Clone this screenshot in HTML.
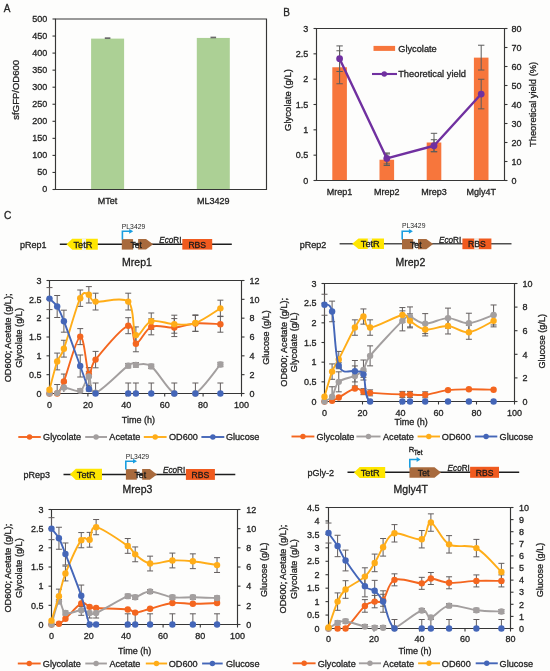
<!DOCTYPE html><html><head><meta charset="utf-8"><style>html,body{margin:0;padding:0;background:#fdfdfc;width:550px;height:671px;overflow:hidden}svg{display:block;filter:blur(0.35px)}text{font-family:"Liberation Sans",sans-serif;stroke:#222;stroke-width:0.3px}</style></head><body>
<svg width="550" height="671" viewBox="0 0 550 671">
<rect x="0" y="0" width="550" height="671" fill="#fdfdfc" />
<text x="3.8" y="11.8" font-size="10" text-anchor="start" fill="#262626" >A</text>
<rect x="91.1" y="38.61" width="33" height="150.89" fill="#acd095" />
<rect x="104.8" y="37.31" width="5.6" height="1.7" fill="#6a6a6a" />
<text x="107.6" y="203.8" font-size="9" text-anchor="middle" fill="#262626" >MTet</text>
<rect x="196.8" y="37.93" width="33" height="151.57" fill="#acd095" />
<rect x="210.5" y="36.63" width="5.6" height="1.7" fill="#6a6a6a" />
<text x="213.3" y="203.8" font-size="9" text-anchor="middle" fill="#262626" >ML3429</text>
<path d="M55.5,19 H266.5 V189.5 H55.5 Z" fill="none" stroke="#363636" stroke-width="1.15"/>
<line x1="52.5" y1="189.5" x2="55.5" y2="189.5" stroke="#363636" stroke-width="1.1" />
<text x="47.2" y="192.3" font-size="9" text-anchor="end" fill="#262626" >0</text>
<line x1="52.5" y1="172.45" x2="55.5" y2="172.45" stroke="#363636" stroke-width="1.1" />
<text x="47.2" y="175.25" font-size="9" text-anchor="end" fill="#262626" >50</text>
<line x1="52.5" y1="155.4" x2="55.5" y2="155.4" stroke="#363636" stroke-width="1.1" />
<text x="47.2" y="158.2" font-size="9" text-anchor="end" fill="#262626" >100</text>
<line x1="52.5" y1="138.35" x2="55.5" y2="138.35" stroke="#363636" stroke-width="1.1" />
<text x="47.2" y="141.15" font-size="9" text-anchor="end" fill="#262626" >150</text>
<line x1="52.5" y1="121.3" x2="55.5" y2="121.3" stroke="#363636" stroke-width="1.1" />
<text x="47.2" y="124.1" font-size="9" text-anchor="end" fill="#262626" >200</text>
<line x1="52.5" y1="104.25" x2="55.5" y2="104.25" stroke="#363636" stroke-width="1.1" />
<text x="47.2" y="107.05" font-size="9" text-anchor="end" fill="#262626" >250</text>
<line x1="52.5" y1="87.2" x2="55.5" y2="87.2" stroke="#363636" stroke-width="1.1" />
<text x="47.2" y="90" font-size="9" text-anchor="end" fill="#262626" >300</text>
<line x1="52.5" y1="70.15" x2="55.5" y2="70.15" stroke="#363636" stroke-width="1.1" />
<text x="47.2" y="72.95" font-size="9" text-anchor="end" fill="#262626" >350</text>
<line x1="52.5" y1="53.1" x2="55.5" y2="53.1" stroke="#363636" stroke-width="1.1" />
<text x="47.2" y="55.9" font-size="9" text-anchor="end" fill="#262626" >400</text>
<line x1="52.5" y1="36.05" x2="55.5" y2="36.05" stroke="#363636" stroke-width="1.1" />
<text x="47.2" y="38.85" font-size="9" text-anchor="end" fill="#262626" >450</text>
<line x1="52.5" y1="19" x2="55.5" y2="19" stroke="#363636" stroke-width="1.1" />
<text x="47.2" y="21.8" font-size="9" text-anchor="end" fill="#262626" >500</text>
<text x="0" y="0" font-size="9.5" text-anchor="middle" fill="#262626" transform="translate(15.3 89.8) rotate(-90)" dy="3.32">sfGFP/OD600</text>
<text x="283.3" y="16" font-size="10" text-anchor="start" fill="#262626" >B</text>
<rect x="332.3" y="67.26" width="14.6" height="113.24" fill="#f7763c" />
<text x="339.6" y="194.6" font-size="9" text-anchor="middle" fill="#262626" >Mrep1</text>
<rect x="379.5" y="159.73" width="14.6" height="20.77" fill="#f7763c" />
<text x="386.8" y="194.6" font-size="9" text-anchor="middle" fill="#262626" >Mrep2</text>
<rect x="426.7" y="142.5" width="14.6" height="38" fill="#f7763c" />
<text x="434" y="194.6" font-size="9" text-anchor="middle" fill="#262626" >Mrep3</text>
<rect x="473.9" y="57.63" width="14.6" height="122.87" fill="#f7763c" />
<text x="481.2" y="194.6" font-size="9" text-anchor="middle" fill="#262626" >Mgly4T</text>
<line x1="339.6" y1="50.76" x2="339.6" y2="83.76" stroke="#5c5c5c" stroke-width="1" />
<line x1="336.4" y1="50.76" x2="342.8" y2="50.76" stroke="#5c5c5c" stroke-width="1" />
<line x1="336.4" y1="83.76" x2="342.8" y2="83.76" stroke="#5c5c5c" stroke-width="1" />
<line x1="386.8" y1="153.93" x2="386.8" y2="165.53" stroke="#5c5c5c" stroke-width="1" />
<line x1="383.6" y1="153.93" x2="390" y2="153.93" stroke="#5c5c5c" stroke-width="1" />
<line x1="383.6" y1="165.53" x2="390" y2="165.53" stroke="#5c5c5c" stroke-width="1" />
<line x1="434" y1="133.3" x2="434" y2="151.7" stroke="#5c5c5c" stroke-width="1" />
<line x1="430.8" y1="133.3" x2="437.2" y2="133.3" stroke="#5c5c5c" stroke-width="1" />
<line x1="430.8" y1="151.7" x2="437.2" y2="151.7" stroke="#5c5c5c" stroke-width="1" />
<line x1="481.2" y1="45.23" x2="481.2" y2="70.03" stroke="#5c5c5c" stroke-width="1" />
<line x1="478" y1="45.23" x2="484.4" y2="45.23" stroke="#5c5c5c" stroke-width="1" />
<line x1="478" y1="70.03" x2="484.4" y2="70.03" stroke="#5c5c5c" stroke-width="1" />
<line x1="339.6" y1="45.91" x2="339.6" y2="71.51" stroke="#5c5c5c" stroke-width="1" />
<line x1="336.4" y1="45.91" x2="342.8" y2="45.91" stroke="#5c5c5c" stroke-width="1" />
<line x1="336.4" y1="71.51" x2="342.8" y2="71.51" stroke="#5c5c5c" stroke-width="1" />
<line x1="386.8" y1="152.96" x2="386.8" y2="163.96" stroke="#5c5c5c" stroke-width="1" />
<line x1="383.6" y1="152.96" x2="390" y2="152.96" stroke="#5c5c5c" stroke-width="1" />
<line x1="383.6" y1="163.96" x2="390" y2="163.96" stroke="#5c5c5c" stroke-width="1" />
<line x1="434" y1="139.73" x2="434" y2="151.73" stroke="#5c5c5c" stroke-width="1" />
<line x1="430.8" y1="139.73" x2="437.2" y2="139.73" stroke="#5c5c5c" stroke-width="1" />
<line x1="430.8" y1="151.73" x2="437.2" y2="151.73" stroke="#5c5c5c" stroke-width="1" />
<line x1="481.2" y1="79.25" x2="481.2" y2="108.85" stroke="#5c5c5c" stroke-width="1" />
<line x1="478" y1="79.25" x2="484.4" y2="79.25" stroke="#5c5c5c" stroke-width="1" />
<line x1="478" y1="108.85" x2="484.4" y2="108.85" stroke="#5c5c5c" stroke-width="1" />
<polyline points="339.6,58.71 386.8,158.46 434,145.73 481.2,94.05" fill="none" stroke="#7030a0" stroke-width="2.4" stroke-linejoin="round"/>
<circle cx="339.6" cy="58.71" r="3.4" fill="#7030a0" />
<circle cx="386.8" cy="158.46" r="3.4" fill="#7030a0" />
<circle cx="434" cy="145.73" r="3.4" fill="#7030a0" />
<circle cx="481.2" cy="94.05" r="3.4" fill="#7030a0" />
<path d="M316.5,28.5 H504.5 V180.5 H316.5 Z" fill="none" stroke="#363636" stroke-width="1.15"/>
<line x1="313.5" y1="180.5" x2="316.5" y2="180.5" stroke="#363636" stroke-width="1.1" />
<text x="308.3" y="183.7" font-size="9" text-anchor="end" fill="#262626" >0</text>
<line x1="313.5" y1="155.17" x2="316.5" y2="155.17" stroke="#363636" stroke-width="1.1" />
<text x="308.3" y="158.37" font-size="9" text-anchor="end" fill="#262626" >0.5</text>
<line x1="313.5" y1="129.83" x2="316.5" y2="129.83" stroke="#363636" stroke-width="1.1" />
<text x="308.3" y="133.03" font-size="9" text-anchor="end" fill="#262626" >1</text>
<line x1="313.5" y1="104.5" x2="316.5" y2="104.5" stroke="#363636" stroke-width="1.1" />
<text x="308.3" y="107.7" font-size="9" text-anchor="end" fill="#262626" >1.5</text>
<line x1="313.5" y1="79.17" x2="316.5" y2="79.17" stroke="#363636" stroke-width="1.1" />
<text x="308.3" y="82.37" font-size="9" text-anchor="end" fill="#262626" >2</text>
<line x1="313.5" y1="53.83" x2="316.5" y2="53.83" stroke="#363636" stroke-width="1.1" />
<text x="308.3" y="57.03" font-size="9" text-anchor="end" fill="#262626" >2.5</text>
<line x1="313.5" y1="28.5" x2="316.5" y2="28.5" stroke="#363636" stroke-width="1.1" />
<text x="308.3" y="31.7" font-size="9" text-anchor="end" fill="#262626" >3</text>
<line x1="504.5" y1="180.5" x2="507.5" y2="180.5" stroke="#363636" stroke-width="1.1" />
<text x="511.4" y="183.7" font-size="9" text-anchor="start" fill="#262626" >0</text>
<line x1="504.5" y1="161.5" x2="507.5" y2="161.5" stroke="#363636" stroke-width="1.1" />
<text x="511.4" y="164.7" font-size="9" text-anchor="start" fill="#262626" >10</text>
<line x1="504.5" y1="142.5" x2="507.5" y2="142.5" stroke="#363636" stroke-width="1.1" />
<text x="511.4" y="145.7" font-size="9" text-anchor="start" fill="#262626" >20</text>
<line x1="504.5" y1="123.5" x2="507.5" y2="123.5" stroke="#363636" stroke-width="1.1" />
<text x="511.4" y="126.7" font-size="9" text-anchor="start" fill="#262626" >30</text>
<line x1="504.5" y1="104.5" x2="507.5" y2="104.5" stroke="#363636" stroke-width="1.1" />
<text x="511.4" y="107.7" font-size="9" text-anchor="start" fill="#262626" >40</text>
<line x1="504.5" y1="85.5" x2="507.5" y2="85.5" stroke="#363636" stroke-width="1.1" />
<text x="511.4" y="88.7" font-size="9" text-anchor="start" fill="#262626" >50</text>
<line x1="504.5" y1="66.5" x2="507.5" y2="66.5" stroke="#363636" stroke-width="1.1" />
<text x="511.4" y="69.7" font-size="9" text-anchor="start" fill="#262626" >60</text>
<line x1="504.5" y1="47.5" x2="507.5" y2="47.5" stroke="#363636" stroke-width="1.1" />
<text x="511.4" y="50.7" font-size="9" text-anchor="start" fill="#262626" >70</text>
<line x1="504.5" y1="28.5" x2="507.5" y2="28.5" stroke="#363636" stroke-width="1.1" />
<text x="511.4" y="31.7" font-size="9" text-anchor="start" fill="#262626" >80</text>
<text x="0" y="0" font-size="9.5" text-anchor="middle" fill="#262626" transform="translate(287.4 100) rotate(-90)" dy="3.32">Glycolate (g/L)</text>
<text x="0" y="0" font-size="9.35" text-anchor="middle" fill="#262626" transform="translate(533 104.4) rotate(-90)" dy="3.27">Theoretical yield (%)</text>
<rect x="373.5" y="45.9" width="21.6" height="5" fill="#f7763c" />
<text x="398.2" y="51.6" font-size="9.25" text-anchor="start" fill="#262626" >Glycolate</text>
<line x1="372" y1="74" x2="397" y2="74" stroke="#7030a0" stroke-width="2.1" />
<circle cx="384.3" cy="74" r="2.7" fill="#7030a0" />
<text x="398.2" y="77.2" font-size="9.3" text-anchor="start" fill="#262626" >Theoretical yield</text>
<text x="4" y="218.6" font-size="10.2" text-anchor="start" fill="#262626" >C</text>
<text x="19.9" y="248" font-size="9" text-anchor="start" fill="#262626" >pRep1</text>
<line x1="59.8" y1="244.2" x2="231.8" y2="244.2" stroke="#1e1e1e" stroke-width="1.5" />
<polygon points="66.5,244.25 72.2,238.8 97.8,238.8 97.8,249.7 72.2,249.7" fill="#ffe600"/>
<rect x="82" y="238.3" width="4" height="11.9" fill="#f3f3ea" />
<text x="82.9" y="247.6" font-size="9.2" text-anchor="middle" fill="#141414" >TetR</text>
<rect x="121.8" y="239.1" width="11.3" height="10.5" fill="#a86a3d" />
<polygon points="138.1,239.1 146,239.1 153.1,244.35 146,249.6 138.1,249.6" fill="#a86a3d"/>
<text x="136.2" y="248" font-size="8.6" text-anchor="middle" fill="#141414" >Tet</text>
<path d="M122.4,239.6 V231.3 H130.2" fill="none" stroke="#1a9ee0" stroke-width="1.6"/>
<polygon points="129.2,228.9 133.2,231.3 129.2,233.7" fill="#1a9ee0"/>
<text x="121.8" y="228.9" font-size="6.8" text-anchor="start" fill="#262626" style="stroke:none">PL3429</text>
<text x="159.2" y="243" font-size="8.2" fill="#222"><tspan font-style="italic">Eco</tspan>RI</text>
<rect x="182.3" y="239" width="29.9" height="10.6" fill="#f05a1e" />
<text x="197.25" y="247.5" font-size="8.6" text-anchor="middle" fill="#141414" >RBS</text>
<text x="122.1" y="265.5" font-size="10.5" text-anchor="start" fill="#1a1a1a" >Mrep1</text>
<text x="299.8" y="247.6" font-size="9" text-anchor="start" fill="#262626" >pRep2</text>
<line x1="339.6" y1="243.8" x2="511.5" y2="243.8" stroke="#505050" stroke-width="1.5" />
<polygon points="352.2,243.65 358.5,238.4 384,238.4 384,248.9 358.5,248.9" fill="#ffe600"/>
<rect x="367.8" y="237.9" width="4.1" height="11.5" fill="#f3f3ea" />
<text x="370.3" y="247.2" font-size="9.2" text-anchor="middle" fill="#141414" >TetR</text>
<rect x="402" y="239" width="11.2" height="10.2" fill="#a86a3d" />
<polygon points="418,239 426.3,239 433.1,244.1 426.3,249.2 418,249.2" fill="#a86a3d"/>
<text x="415.8" y="247.6" font-size="8.6" text-anchor="middle" fill="#141414" >Tet</text>
<path d="M402.2,239.5 V231.3 H409.9" fill="none" stroke="#1a9ee0" stroke-width="1.6"/>
<polygon points="408.9,228.9 412.9,231.3 408.9,233.7" fill="#1a9ee0"/>
<text x="402" y="228.4" font-size="6.8" text-anchor="start" fill="#262626" style="stroke:none">PL3429</text>
<text x="439" y="242.6" font-size="8.2" fill="#222"><tspan font-style="italic">Eco</tspan>RI</text>
<rect x="462.4" y="238.5" width="29" height="10.7" fill="#f05a1e" />
<rect x="474.2" y="238" width="4.6" height="11.7" fill="#f1ece6" />
<text x="476.9" y="247.1" font-size="8.6" text-anchor="middle" fill="#141414" >RBS</text>
<text x="395.5" y="265.5" font-size="10.5" text-anchor="start" fill="#1a1a1a" >Mrep2</text>
<text x="23.5" y="478.2" font-size="9" text-anchor="start" fill="#262626" >pRep3</text>
<line x1="63.5" y1="474.4" x2="235.3" y2="474.4" stroke="#1e1e1e" stroke-width="1.5" />
<polygon points="70,474.35 75.8,468.8 102,468.8 102,479.9 75.8,479.9" fill="#ffe600"/>
<text x="86.3" y="477.8" font-size="9.2" text-anchor="middle" fill="#141414" >TetR</text>
<rect x="125.9" y="469.1" width="10.9" height="10.6" fill="#a86a3d" />
<polygon points="142.1,469.1 149.9,469.1 157,474.4 149.9,479.7 142.1,479.7" fill="#a86a3d"/>
<text x="140.3" y="478.2" font-size="8.6" text-anchor="middle" fill="#141414" >Tet</text>
<path d="M125.8,469.6 V461.2 H134" fill="none" stroke="#1a9ee0" stroke-width="1.6"/>
<polygon points="133,458.8 137,461.2 133,463.6" fill="#1a9ee0"/>
<text x="125.7" y="458.9" font-size="6.8" text-anchor="start" fill="#262626" style="stroke:none">PL3429</text>
<text x="163" y="473" font-size="8.2" fill="#222"><tspan font-style="italic">Eco</tspan>RI</text>
<rect x="185.9" y="469" width="29" height="10.9" fill="#f05a1e" />
<text x="200.4" y="477.7" font-size="8.6" text-anchor="middle" fill="#141414" >RBS</text>
<text x="122.6" y="493" font-size="10.5" text-anchor="start" fill="#1a1a1a" >Mrep3</text>
<text x="307.6" y="476" font-size="9" text-anchor="start" fill="#262626" >pGly-2</text>
<line x1="347.5" y1="472.2" x2="519.2" y2="472.2" stroke="#1e1e1e" stroke-width="1.5" />
<polygon points="354,472.5 359.7,467.1 385.2,467.1 385.2,477.9 359.7,477.9" fill="#ffe600"/>
<text x="370.2" y="475.6" font-size="9.2" text-anchor="middle" fill="#141414" >TetR</text>
<polygon points="409.5,467.2 434.5,467.2 440.9,472.45 434.5,477.7 409.5,477.7" fill="#a86a3d"/>
<text x="423.6" y="476" font-size="8.6" text-anchor="middle" fill="#141414" >Tet</text>
<path d="M409.8,467.7 V459.5 H417.6" fill="none" stroke="#1a9ee0" stroke-width="1.6"/>
<polygon points="416.6,457.1 420.6,459.5 416.6,461.9" fill="#1a9ee0"/>
<text x="408.7" y="452.1" font-size="7.6" fill="#222">R<tspan font-size="6.6" dy="2.8" dx="-0.4">Tet</tspan></text>
<text x="447.6" y="471.4" font-size="8.2" fill="#222"><tspan font-style="italic">Eco</tspan>RI</text>
<rect x="470.1" y="466.8" width="28.9" height="11" fill="#f05a1e" />
<text x="484.55" y="475.5" font-size="8.6" text-anchor="middle" fill="#141414" >RBS</text>
<text x="393.6" y="492.6" font-size="10.5" text-anchor="start" fill="#1a1a1a" >Mgly4T</text>
<path d="M49.5,280.5 H241.5 V393.5 H49.5 Z" fill="none" stroke="#363636" stroke-width="1.15"/>
<line x1="46.5" y1="393.5" x2="49.5" y2="393.5" stroke="#363636" stroke-width="1.1" />
<text x="41.6" y="396.7" font-size="9" text-anchor="end" fill="#262626" >0</text>
<line x1="46.5" y1="374.67" x2="49.5" y2="374.67" stroke="#363636" stroke-width="1.1" />
<text x="41.6" y="377.87" font-size="9" text-anchor="end" fill="#262626" >0.5</text>
<line x1="46.5" y1="355.83" x2="49.5" y2="355.83" stroke="#363636" stroke-width="1.1" />
<text x="41.6" y="359.03" font-size="9" text-anchor="end" fill="#262626" >1</text>
<line x1="46.5" y1="337" x2="49.5" y2="337" stroke="#363636" stroke-width="1.1" />
<text x="41.6" y="340.2" font-size="9" text-anchor="end" fill="#262626" >1.5</text>
<line x1="46.5" y1="318.17" x2="49.5" y2="318.17" stroke="#363636" stroke-width="1.1" />
<text x="41.6" y="321.37" font-size="9" text-anchor="end" fill="#262626" >2</text>
<line x1="46.5" y1="299.33" x2="49.5" y2="299.33" stroke="#363636" stroke-width="1.1" />
<text x="41.6" y="302.53" font-size="9" text-anchor="end" fill="#262626" >2.5</text>
<line x1="46.5" y1="280.5" x2="49.5" y2="280.5" stroke="#363636" stroke-width="1.1" />
<text x="41.6" y="283.7" font-size="9" text-anchor="end" fill="#262626" >3</text>
<line x1="241.5" y1="393.5" x2="244.5" y2="393.5" stroke="#363636" stroke-width="1.1" />
<text x="249.4" y="396.7" font-size="9" text-anchor="start" fill="#262626" >0</text>
<line x1="241.5" y1="374.67" x2="244.5" y2="374.67" stroke="#363636" stroke-width="1.1" />
<text x="249.4" y="377.87" font-size="9" text-anchor="start" fill="#262626" >2</text>
<line x1="241.5" y1="355.83" x2="244.5" y2="355.83" stroke="#363636" stroke-width="1.1" />
<text x="249.4" y="359.03" font-size="9" text-anchor="start" fill="#262626" >4</text>
<line x1="241.5" y1="337" x2="244.5" y2="337" stroke="#363636" stroke-width="1.1" />
<text x="249.4" y="340.2" font-size="9" text-anchor="start" fill="#262626" >6</text>
<line x1="241.5" y1="318.17" x2="244.5" y2="318.17" stroke="#363636" stroke-width="1.1" />
<text x="249.4" y="321.37" font-size="9" text-anchor="start" fill="#262626" >8</text>
<line x1="241.5" y1="299.33" x2="244.5" y2="299.33" stroke="#363636" stroke-width="1.1" />
<text x="249.4" y="302.53" font-size="9" text-anchor="start" fill="#262626" >10</text>
<line x1="241.5" y1="280.5" x2="244.5" y2="280.5" stroke="#363636" stroke-width="1.1" />
<text x="249.4" y="283.7" font-size="9" text-anchor="start" fill="#262626" >12</text>
<line x1="49.5" y1="393.5" x2="49.5" y2="396.5" stroke="#363636" stroke-width="1.1" />
<text x="49.5" y="407.8" font-size="9" text-anchor="middle" fill="#262626" >0</text>
<line x1="87.9" y1="393.5" x2="87.9" y2="396.5" stroke="#363636" stroke-width="1.1" />
<text x="87.9" y="407.8" font-size="9" text-anchor="middle" fill="#262626" >20</text>
<line x1="126.3" y1="393.5" x2="126.3" y2="396.5" stroke="#363636" stroke-width="1.1" />
<text x="126.3" y="407.8" font-size="9" text-anchor="middle" fill="#262626" >40</text>
<line x1="164.7" y1="393.5" x2="164.7" y2="396.5" stroke="#363636" stroke-width="1.1" />
<text x="164.7" y="407.8" font-size="9" text-anchor="middle" fill="#262626" >60</text>
<line x1="203.1" y1="393.5" x2="203.1" y2="396.5" stroke="#363636" stroke-width="1.1" />
<text x="203.1" y="407.8" font-size="9" text-anchor="middle" fill="#262626" >80</text>
<line x1="241.5" y1="393.5" x2="241.5" y2="396.5" stroke="#363636" stroke-width="1.1" />
<text x="241.5" y="407.8" font-size="9" text-anchor="middle" fill="#262626" >100</text>
<text x="138.4" y="422.7" font-size="9" text-anchor="middle" fill="#262626" >Time (h)</text>
<text x="0" y="0" font-size="9.2" text-anchor="middle" fill="#262626" transform="translate(7.8 337.9) rotate(-90)" dy="3.22">OD600; Acetate (g/L);</text>
<text x="0" y="0" font-size="9.2" text-anchor="middle" fill="#262626" transform="translate(18.5 337.9) rotate(-90)" dy="3.22">Glycolate (g/L)</text>
<text x="0" y="0" font-size="9.1" text-anchor="middle" fill="#262626" transform="translate(265.8 337.5) rotate(-90)" dy="3.18">Glucose (g/L)</text>
<clipPath id="c1"><rect x="45.5" y="278.5" width="200" height="113.5"/></clipPath>
<g clip-path="url(#c1)">
<line x1="63.9" y1="374.05" x2="63.9" y2="388.85" stroke="#625d5d" stroke-width="1" />
<line x1="60.9" y1="374.05" x2="66.9" y2="374.05" stroke="#625d5d" stroke-width="1" />
<line x1="60.9" y1="388.85" x2="66.9" y2="388.85" stroke="#625d5d" stroke-width="1" />
<line x1="80.22" y1="328.62" x2="80.22" y2="344.62" stroke="#625d5d" stroke-width="1" />
<line x1="77.22" y1="328.62" x2="83.22" y2="328.62" stroke="#625d5d" stroke-width="1" />
<line x1="77.22" y1="344.62" x2="83.22" y2="344.62" stroke="#625d5d" stroke-width="1" />
<line x1="88.86" y1="371.29" x2="88.86" y2="377.29" stroke="#625d5d" stroke-width="1" />
<line x1="85.86" y1="371.29" x2="91.86" y2="371.29" stroke="#625d5d" stroke-width="1" />
<line x1="85.86" y1="377.29" x2="91.86" y2="377.29" stroke="#625d5d" stroke-width="1" />
<line x1="95.58" y1="351.4" x2="95.58" y2="367.8" stroke="#625d5d" stroke-width="1" />
<line x1="92.58" y1="351.4" x2="98.58" y2="351.4" stroke="#625d5d" stroke-width="1" />
<line x1="92.58" y1="367.8" x2="98.58" y2="367.8" stroke="#625d5d" stroke-width="1" />
<line x1="128.22" y1="317.7" x2="128.22" y2="333.7" stroke="#625d5d" stroke-width="1" />
<line x1="125.22" y1="317.7" x2="131.22" y2="317.7" stroke="#625d5d" stroke-width="1" />
<line x1="125.22" y1="333.7" x2="131.22" y2="333.7" stroke="#625d5d" stroke-width="1" />
<line x1="135.9" y1="335.78" x2="135.9" y2="351.78" stroke="#625d5d" stroke-width="1" />
<line x1="132.9" y1="335.78" x2="138.9" y2="335.78" stroke="#625d5d" stroke-width="1" />
<line x1="132.9" y1="351.78" x2="138.9" y2="351.78" stroke="#625d5d" stroke-width="1" />
<line x1="151.26" y1="318.83" x2="151.26" y2="334.83" stroke="#625d5d" stroke-width="1" />
<line x1="148.26" y1="318.83" x2="154.26" y2="318.83" stroke="#625d5d" stroke-width="1" />
<line x1="148.26" y1="334.83" x2="154.26" y2="334.83" stroke="#625d5d" stroke-width="1" />
<line x1="174.3" y1="318.58" x2="174.3" y2="336.58" stroke="#625d5d" stroke-width="1" />
<line x1="171.3" y1="318.58" x2="177.3" y2="318.58" stroke="#625d5d" stroke-width="1" />
<line x1="171.3" y1="336.58" x2="177.3" y2="336.58" stroke="#625d5d" stroke-width="1" />
<line x1="195.42" y1="315.44" x2="195.42" y2="331.44" stroke="#625d5d" stroke-width="1" />
<line x1="192.42" y1="315.44" x2="198.42" y2="315.44" stroke="#625d5d" stroke-width="1" />
<line x1="192.42" y1="331.44" x2="198.42" y2="331.44" stroke="#625d5d" stroke-width="1" />
<line x1="220.38" y1="316.19" x2="220.38" y2="332.19" stroke="#625d5d" stroke-width="1" />
<line x1="217.38" y1="316.19" x2="223.38" y2="316.19" stroke="#625d5d" stroke-width="1" />
<line x1="217.38" y1="332.19" x2="223.38" y2="332.19" stroke="#625d5d" stroke-width="1" />
<line x1="57.18" y1="384.52" x2="57.18" y2="401.72" stroke="#625d5d" stroke-width="1" />
<line x1="54.18" y1="384.52" x2="60.18" y2="384.52" stroke="#625d5d" stroke-width="1" />
<line x1="54.18" y1="401.72" x2="60.18" y2="401.72" stroke="#625d5d" stroke-width="1" />
<line x1="63.9" y1="382.47" x2="63.9" y2="392.47" stroke="#625d5d" stroke-width="1" />
<line x1="60.9" y1="382.47" x2="66.9" y2="382.47" stroke="#625d5d" stroke-width="1" />
<line x1="60.9" y1="392.47" x2="66.9" y2="392.47" stroke="#625d5d" stroke-width="1" />
<line x1="80.22" y1="388.86" x2="80.22" y2="392.86" stroke="#625d5d" stroke-width="1" />
<line x1="77.22" y1="388.86" x2="83.22" y2="388.86" stroke="#625d5d" stroke-width="1" />
<line x1="77.22" y1="392.86" x2="83.22" y2="392.86" stroke="#625d5d" stroke-width="1" />
<line x1="88.86" y1="367.55" x2="88.86" y2="385.55" stroke="#625d5d" stroke-width="1" />
<line x1="85.86" y1="367.55" x2="91.86" y2="367.55" stroke="#625d5d" stroke-width="1" />
<line x1="85.86" y1="385.55" x2="91.86" y2="385.55" stroke="#625d5d" stroke-width="1" />
<line x1="95.58" y1="390.75" x2="95.58" y2="394.75" stroke="#625d5d" stroke-width="1" />
<line x1="92.58" y1="390.75" x2="98.58" y2="390.75" stroke="#625d5d" stroke-width="1" />
<line x1="92.58" y1="394.75" x2="98.58" y2="394.75" stroke="#625d5d" stroke-width="1" />
<line x1="128.22" y1="363.43" x2="128.22" y2="367.83" stroke="#625d5d" stroke-width="1" />
<line x1="125.22" y1="363.43" x2="131.22" y2="363.43" stroke="#625d5d" stroke-width="1" />
<line x1="125.22" y1="367.83" x2="131.22" y2="367.83" stroke="#625d5d" stroke-width="1" />
<line x1="135.9" y1="362.67" x2="135.9" y2="367.07" stroke="#625d5d" stroke-width="1" />
<line x1="132.9" y1="362.67" x2="138.9" y2="362.67" stroke="#625d5d" stroke-width="1" />
<line x1="132.9" y1="367.07" x2="138.9" y2="367.07" stroke="#625d5d" stroke-width="1" />
<line x1="151.26" y1="364.18" x2="151.26" y2="368.58" stroke="#625d5d" stroke-width="1" />
<line x1="148.26" y1="364.18" x2="154.26" y2="364.18" stroke="#625d5d" stroke-width="1" />
<line x1="148.26" y1="368.58" x2="154.26" y2="368.58" stroke="#625d5d" stroke-width="1" />
<line x1="220.38" y1="362.3" x2="220.38" y2="366.7" stroke="#625d5d" stroke-width="1" />
<line x1="217.38" y1="362.3" x2="223.38" y2="362.3" stroke="#625d5d" stroke-width="1" />
<line x1="217.38" y1="366.7" x2="223.38" y2="366.7" stroke="#625d5d" stroke-width="1" />
<line x1="57.18" y1="353.08" x2="57.18" y2="369.88" stroke="#625d5d" stroke-width="1" />
<line x1="54.18" y1="353.08" x2="60.18" y2="353.08" stroke="#625d5d" stroke-width="1" />
<line x1="54.18" y1="369.88" x2="60.18" y2="369.88" stroke="#625d5d" stroke-width="1" />
<line x1="63.9" y1="340.28" x2="63.9" y2="357.08" stroke="#625d5d" stroke-width="1" />
<line x1="60.9" y1="340.28" x2="66.9" y2="340.28" stroke="#625d5d" stroke-width="1" />
<line x1="60.9" y1="357.08" x2="66.9" y2="357.08" stroke="#625d5d" stroke-width="1" />
<line x1="80.22" y1="290" x2="80.22" y2="306.4" stroke="#625d5d" stroke-width="1" />
<line x1="77.22" y1="290" x2="83.22" y2="290" stroke="#625d5d" stroke-width="1" />
<line x1="77.22" y1="306.4" x2="83.22" y2="306.4" stroke="#625d5d" stroke-width="1" />
<line x1="88.86" y1="286.61" x2="88.86" y2="303.01" stroke="#625d5d" stroke-width="1" />
<line x1="85.86" y1="286.61" x2="91.86" y2="286.61" stroke="#625d5d" stroke-width="1" />
<line x1="85.86" y1="303.01" x2="91.86" y2="303.01" stroke="#625d5d" stroke-width="1" />
<line x1="95.58" y1="293.19" x2="95.58" y2="309.99" stroke="#625d5d" stroke-width="1" />
<line x1="92.58" y1="293.19" x2="98.58" y2="293.19" stroke="#625d5d" stroke-width="1" />
<line x1="92.58" y1="309.99" x2="98.58" y2="309.99" stroke="#625d5d" stroke-width="1" />
<line x1="128.22" y1="293.19" x2="128.22" y2="309.99" stroke="#625d5d" stroke-width="1" />
<line x1="125.22" y1="293.19" x2="131.22" y2="293.19" stroke="#625d5d" stroke-width="1" />
<line x1="125.22" y1="309.99" x2="131.22" y2="309.99" stroke="#625d5d" stroke-width="1" />
<line x1="135.9" y1="326.92" x2="135.9" y2="343.32" stroke="#625d5d" stroke-width="1" />
<line x1="132.9" y1="326.92" x2="138.9" y2="326.92" stroke="#625d5d" stroke-width="1" />
<line x1="132.9" y1="343.32" x2="138.9" y2="343.32" stroke="#625d5d" stroke-width="1" />
<line x1="151.26" y1="312.98" x2="151.26" y2="329.38" stroke="#625d5d" stroke-width="1" />
<line x1="148.26" y1="312.98" x2="154.26" y2="312.98" stroke="#625d5d" stroke-width="1" />
<line x1="148.26" y1="329.38" x2="154.26" y2="329.38" stroke="#625d5d" stroke-width="1" />
<line x1="174.3" y1="315.19" x2="174.3" y2="333.19" stroke="#625d5d" stroke-width="1" />
<line x1="171.3" y1="315.19" x2="177.3" y2="315.19" stroke="#625d5d" stroke-width="1" />
<line x1="171.3" y1="333.19" x2="177.3" y2="333.19" stroke="#625d5d" stroke-width="1" />
<line x1="195.42" y1="314.86" x2="195.42" y2="331.26" stroke="#625d5d" stroke-width="1" />
<line x1="192.42" y1="314.86" x2="198.42" y2="314.86" stroke="#625d5d" stroke-width="1" />
<line x1="192.42" y1="331.26" x2="198.42" y2="331.26" stroke="#625d5d" stroke-width="1" />
<line x1="220.38" y1="300.17" x2="220.38" y2="316.57" stroke="#625d5d" stroke-width="1" />
<line x1="217.38" y1="300.17" x2="223.38" y2="300.17" stroke="#625d5d" stroke-width="1" />
<line x1="217.38" y1="316.57" x2="223.38" y2="316.57" stroke="#625d5d" stroke-width="1" />
<line x1="49.5" y1="287.58" x2="49.5" y2="309.58" stroke="#625d5d" stroke-width="1" />
<line x1="46.5" y1="287.58" x2="52.5" y2="287.58" stroke="#625d5d" stroke-width="1" />
<line x1="46.5" y1="309.58" x2="52.5" y2="309.58" stroke="#625d5d" stroke-width="1" />
<line x1="57.18" y1="295.49" x2="57.18" y2="317.49" stroke="#625d5d" stroke-width="1" />
<line x1="54.18" y1="295.49" x2="60.18" y2="295.49" stroke="#625d5d" stroke-width="1" />
<line x1="54.18" y1="317.49" x2="60.18" y2="317.49" stroke="#625d5d" stroke-width="1" />
<line x1="63.9" y1="310.18" x2="63.9" y2="332.18" stroke="#625d5d" stroke-width="1" />
<line x1="60.9" y1="310.18" x2="66.9" y2="310.18" stroke="#625d5d" stroke-width="1" />
<line x1="60.9" y1="332.18" x2="66.9" y2="332.18" stroke="#625d5d" stroke-width="1" />
<line x1="80.22" y1="355" x2="80.22" y2="377" stroke="#625d5d" stroke-width="1" />
<line x1="77.22" y1="355" x2="83.22" y2="355" stroke="#625d5d" stroke-width="1" />
<line x1="77.22" y1="377" x2="83.22" y2="377" stroke="#625d5d" stroke-width="1" />
<line x1="88.86" y1="385.98" x2="88.86" y2="391.98" stroke="#625d5d" stroke-width="1" />
<line x1="85.86" y1="385.98" x2="91.86" y2="385.98" stroke="#625d5d" stroke-width="1" />
<line x1="85.86" y1="391.98" x2="91.86" y2="391.98" stroke="#625d5d" stroke-width="1" />
<line x1="95.58" y1="383" x2="95.58" y2="404" stroke="#625d5d" stroke-width="1" />
<line x1="92.58" y1="383" x2="98.58" y2="383" stroke="#625d5d" stroke-width="1" />
<line x1="92.58" y1="404" x2="98.58" y2="404" stroke="#625d5d" stroke-width="1" />
<line x1="128.22" y1="383" x2="128.22" y2="404" stroke="#625d5d" stroke-width="1" />
<line x1="125.22" y1="383" x2="131.22" y2="383" stroke="#625d5d" stroke-width="1" />
<line x1="125.22" y1="404" x2="131.22" y2="404" stroke="#625d5d" stroke-width="1" />
<line x1="135.9" y1="383" x2="135.9" y2="404" stroke="#625d5d" stroke-width="1" />
<line x1="132.9" y1="383" x2="138.9" y2="383" stroke="#625d5d" stroke-width="1" />
<line x1="132.9" y1="404" x2="138.9" y2="404" stroke="#625d5d" stroke-width="1" />
<line x1="151.26" y1="383" x2="151.26" y2="404" stroke="#625d5d" stroke-width="1" />
<line x1="148.26" y1="383" x2="154.26" y2="383" stroke="#625d5d" stroke-width="1" />
<line x1="148.26" y1="404" x2="154.26" y2="404" stroke="#625d5d" stroke-width="1" />
<line x1="174.3" y1="383" x2="174.3" y2="404" stroke="#625d5d" stroke-width="1" />
<line x1="171.3" y1="383" x2="177.3" y2="383" stroke="#625d5d" stroke-width="1" />
<line x1="171.3" y1="404" x2="177.3" y2="404" stroke="#625d5d" stroke-width="1" />
<line x1="195.42" y1="383" x2="195.42" y2="404" stroke="#625d5d" stroke-width="1" />
<line x1="192.42" y1="383" x2="198.42" y2="383" stroke="#625d5d" stroke-width="1" />
<line x1="192.42" y1="404" x2="198.42" y2="404" stroke="#625d5d" stroke-width="1" />
<line x1="220.38" y1="383" x2="220.38" y2="404" stroke="#625d5d" stroke-width="1" />
<line x1="217.38" y1="383" x2="223.38" y2="383" stroke="#625d5d" stroke-width="1" />
<line x1="217.38" y1="404" x2="223.38" y2="404" stroke="#625d5d" stroke-width="1" />
</g>
<path d="M49.5,393.5 C50.78,393.5 54.78,395.51 57.18,393.5 C59.58,391.49 60.06,390.93 63.9,381.45 C67.74,371.97 76.06,337.82 80.22,336.62 C84.38,335.43 86.3,370.46 88.86,374.29 C91.42,378.12 89.02,367.7 95.58,359.6 C102.14,351.5 121.5,328.34 128.22,325.7 C134.94,323.06 132.06,343.59 135.9,343.78 C139.74,343.97 144.86,329.53 151.26,326.83 C157.66,324.13 166.94,328.15 174.3,327.58 C181.66,327.02 187.74,324 195.42,323.44 C203.1,322.88 216.22,324.07 220.38,324.19" fill="none" stroke="#f4661f" stroke-width="1.9" stroke-linejoin="round" clip-path="url(#c1)"/>
<circle cx="49.5" cy="393.5" r="3.2" fill="#f4661f" />
<circle cx="57.18" cy="393.5" r="3.2" fill="#f4661f" />
<circle cx="63.9" cy="381.45" r="3.2" fill="#f4661f" />
<circle cx="80.22" cy="336.62" r="3.2" fill="#f4661f" />
<circle cx="88.86" cy="374.29" r="3.2" fill="#f4661f" />
<circle cx="95.58" cy="359.6" r="3.2" fill="#f4661f" />
<circle cx="128.22" cy="325.7" r="3.2" fill="#f4661f" />
<circle cx="135.9" cy="343.78" r="3.2" fill="#f4661f" />
<circle cx="151.26" cy="326.83" r="3.2" fill="#f4661f" />
<circle cx="174.3" cy="327.58" r="3.2" fill="#f4661f" />
<circle cx="195.42" cy="323.44" r="3.2" fill="#f4661f" />
<circle cx="220.38" cy="324.19" r="3.2" fill="#f4661f" />
<path d="M49.5,393.5 C50.78,393.44 54.78,394.13 57.18,393.12 C59.58,392.12 60.06,387.85 63.9,387.47 C67.74,387.1 76.06,392.68 80.22,390.86 C84.38,389.04 86.3,376.24 88.86,376.55 C91.42,376.86 89.02,394.57 95.58,392.75 C102.14,390.93 121.5,370.27 128.22,365.63 C134.94,360.98 132.06,364.75 135.9,364.87 C139.74,365 144.86,361.61 151.26,366.38 C157.66,371.15 166.94,388.98 174.3,393.5 C181.66,398.02 187.74,398.33 195.42,393.5 C203.1,388.67 216.22,369.33 220.38,364.5" fill="none" stroke="#a39f9f" stroke-width="1.9" stroke-linejoin="round" clip-path="url(#c1)"/>
<circle cx="49.5" cy="393.5" r="3.2" fill="#a39f9f" />
<circle cx="57.18" cy="393.12" r="3.2" fill="#a39f9f" />
<circle cx="63.9" cy="387.47" r="3.2" fill="#a39f9f" />
<circle cx="80.22" cy="390.86" r="3.2" fill="#a39f9f" />
<circle cx="88.86" cy="376.55" r="3.2" fill="#a39f9f" />
<circle cx="95.58" cy="392.75" r="3.2" fill="#a39f9f" />
<circle cx="128.22" cy="365.63" r="3.2" fill="#a39f9f" />
<circle cx="135.9" cy="364.87" r="3.2" fill="#a39f9f" />
<circle cx="151.26" cy="366.38" r="3.2" fill="#a39f9f" />
<circle cx="174.3" cy="393.5" r="3.2" fill="#a39f9f" />
<circle cx="195.42" cy="393.5" r="3.2" fill="#a39f9f" />
<circle cx="220.38" cy="364.5" r="3.2" fill="#a39f9f" />
<path d="M49.5,389.73 C50.78,385.03 54.78,368.33 57.18,361.48 C59.58,354.64 60.06,359.22 63.9,348.68 C67.74,338.13 76.06,307.18 80.22,298.2 C84.38,289.23 86.3,294.25 88.86,294.81 C91.42,295.38 89.02,300.46 95.58,301.59 C102.14,302.72 121.5,296.01 128.22,301.59 C134.94,307.18 132.06,331.85 135.9,335.12 C139.74,338.38 144.86,323 151.26,321.18 C157.66,319.36 166.94,323.88 174.3,324.19 C181.66,324.51 187.74,325.7 195.42,323.06 C203.1,320.43 216.22,310.82 220.38,308.37" fill="none" stroke="#ffad18" stroke-width="1.9" stroke-linejoin="round" clip-path="url(#c1)"/>
<circle cx="49.5" cy="389.73" r="3.2" fill="#ffad18" />
<circle cx="57.18" cy="361.48" r="3.2" fill="#ffad18" />
<circle cx="63.9" cy="348.68" r="3.2" fill="#ffad18" />
<circle cx="80.22" cy="298.2" r="3.2" fill="#ffad18" />
<circle cx="88.86" cy="294.81" r="3.2" fill="#ffad18" />
<circle cx="95.58" cy="301.59" r="3.2" fill="#ffad18" />
<circle cx="128.22" cy="301.59" r="3.2" fill="#ffad18" />
<circle cx="135.9" cy="335.12" r="3.2" fill="#ffad18" />
<circle cx="151.26" cy="321.18" r="3.2" fill="#ffad18" />
<circle cx="174.3" cy="324.19" r="3.2" fill="#ffad18" />
<circle cx="195.42" cy="323.06" r="3.2" fill="#ffad18" />
<circle cx="220.38" cy="308.37" r="3.2" fill="#ffad18" />
<path d="M49.5,298.58 C50.78,299.9 54.78,302.72 57.18,306.49 C59.58,310.26 60.06,311.26 63.9,321.18 C67.74,331.1 76.06,354.7 80.22,366 C84.38,377.3 86.3,384.4 88.86,388.98 C91.42,393.56 89.02,392.75 95.58,393.5 C102.14,394.25 121.5,393.5 128.22,393.5 C134.94,393.5 132.06,393.5 135.9,393.5 C139.74,393.5 144.86,393.5 151.26,393.5 C157.66,393.5 166.94,393.5 174.3,393.5 C181.66,393.5 187.74,393.5 195.42,393.5 C203.1,393.5 216.22,393.5 220.38,393.5" fill="none" stroke="#4466b8" stroke-width="1.9" stroke-linejoin="round" clip-path="url(#c1)"/>
<circle cx="49.5" cy="298.58" r="3.2" fill="#4466b8" />
<circle cx="57.18" cy="306.49" r="3.2" fill="#4466b8" />
<circle cx="63.9" cy="321.18" r="3.2" fill="#4466b8" />
<circle cx="80.22" cy="366" r="3.2" fill="#4466b8" />
<circle cx="88.86" cy="388.98" r="3.2" fill="#4466b8" />
<circle cx="95.58" cy="393.5" r="3.2" fill="#4466b8" />
<circle cx="128.22" cy="393.5" r="3.2" fill="#4466b8" />
<circle cx="135.9" cy="393.5" r="3.2" fill="#4466b8" />
<circle cx="151.26" cy="393.5" r="3.2" fill="#4466b8" />
<circle cx="174.3" cy="393.5" r="3.2" fill="#4466b8" />
<circle cx="195.42" cy="393.5" r="3.2" fill="#4466b8" />
<circle cx="220.38" cy="393.5" r="3.2" fill="#4466b8" />
<line x1="18.3" y1="437" x2="40.8" y2="437" stroke="#f4661f" stroke-width="1.9" />
<circle cx="29.55" cy="437" r="2.7" fill="#f4661f" />
<text x="43.1" y="440.2" font-size="9.15" text-anchor="start" fill="#262626" >Glycolate</text>
<line x1="85.2" y1="437" x2="107" y2="437" stroke="#a39f9f" stroke-width="1.9" />
<circle cx="96.1" cy="437" r="2.7" fill="#a39f9f" />
<text x="109.3" y="440.2" font-size="9.15" text-anchor="start" fill="#262626" >Acetate</text>
<line x1="143.8" y1="437" x2="166.6" y2="437" stroke="#ffad18" stroke-width="1.9" />
<circle cx="155.2" cy="437" r="2.7" fill="#ffad18" />
<text x="169" y="440.2" font-size="9.15" text-anchor="start" fill="#262626" >OD600</text>
<line x1="201.4" y1="437" x2="224.3" y2="437" stroke="#4466b8" stroke-width="1.9" />
<circle cx="212.85" cy="437" r="2.7" fill="#4466b8" />
<text x="225.9" y="440.2" font-size="9.15" text-anchor="start" fill="#262626" >Glucose</text>
<path d="M324.5,283.5 H514.5 V401.5 H324.5 Z" fill="none" stroke="#363636" stroke-width="1.15"/>
<line x1="321.5" y1="401.5" x2="324.5" y2="401.5" stroke="#363636" stroke-width="1.1" />
<text x="316.4" y="404.7" font-size="9" text-anchor="end" fill="#262626" >0</text>
<line x1="321.5" y1="381.83" x2="324.5" y2="381.83" stroke="#363636" stroke-width="1.1" />
<text x="316.4" y="385.03" font-size="9" text-anchor="end" fill="#262626" >0.5</text>
<line x1="321.5" y1="362.17" x2="324.5" y2="362.17" stroke="#363636" stroke-width="1.1" />
<text x="316.4" y="365.37" font-size="9" text-anchor="end" fill="#262626" >1</text>
<line x1="321.5" y1="342.5" x2="324.5" y2="342.5" stroke="#363636" stroke-width="1.1" />
<text x="316.4" y="345.7" font-size="9" text-anchor="end" fill="#262626" >1.5</text>
<line x1="321.5" y1="322.83" x2="324.5" y2="322.83" stroke="#363636" stroke-width="1.1" />
<text x="316.4" y="326.03" font-size="9" text-anchor="end" fill="#262626" >2</text>
<line x1="321.5" y1="303.17" x2="324.5" y2="303.17" stroke="#363636" stroke-width="1.1" />
<text x="316.4" y="306.37" font-size="9" text-anchor="end" fill="#262626" >2.5</text>
<line x1="321.5" y1="283.5" x2="324.5" y2="283.5" stroke="#363636" stroke-width="1.1" />
<text x="316.4" y="286.7" font-size="9" text-anchor="end" fill="#262626" >3</text>
<line x1="514.5" y1="401.5" x2="517.5" y2="401.5" stroke="#363636" stroke-width="1.1" />
<text x="522.4" y="404.7" font-size="9" text-anchor="start" fill="#262626" >0</text>
<line x1="514.5" y1="377.9" x2="517.5" y2="377.9" stroke="#363636" stroke-width="1.1" />
<text x="522.4" y="381.1" font-size="9" text-anchor="start" fill="#262626" >2</text>
<line x1="514.5" y1="354.3" x2="517.5" y2="354.3" stroke="#363636" stroke-width="1.1" />
<text x="522.4" y="357.5" font-size="9" text-anchor="start" fill="#262626" >4</text>
<line x1="514.5" y1="330.7" x2="517.5" y2="330.7" stroke="#363636" stroke-width="1.1" />
<text x="522.4" y="333.9" font-size="9" text-anchor="start" fill="#262626" >6</text>
<line x1="514.5" y1="307.1" x2="517.5" y2="307.1" stroke="#363636" stroke-width="1.1" />
<text x="522.4" y="310.3" font-size="9" text-anchor="start" fill="#262626" >8</text>
<line x1="514.5" y1="283.5" x2="517.5" y2="283.5" stroke="#363636" stroke-width="1.1" />
<text x="522.4" y="286.7" font-size="9" text-anchor="start" fill="#262626" >10</text>
<line x1="324.5" y1="401.5" x2="324.5" y2="404.5" stroke="#363636" stroke-width="1.1" />
<text x="324.5" y="416" font-size="9" text-anchor="middle" fill="#262626" >0</text>
<line x1="362.5" y1="401.5" x2="362.5" y2="404.5" stroke="#363636" stroke-width="1.1" />
<text x="362.5" y="416" font-size="9" text-anchor="middle" fill="#262626" >20</text>
<line x1="400.5" y1="401.5" x2="400.5" y2="404.5" stroke="#363636" stroke-width="1.1" />
<text x="400.5" y="416" font-size="9" text-anchor="middle" fill="#262626" >40</text>
<line x1="438.5" y1="401.5" x2="438.5" y2="404.5" stroke="#363636" stroke-width="1.1" />
<text x="438.5" y="416" font-size="9" text-anchor="middle" fill="#262626" >60</text>
<line x1="476.5" y1="401.5" x2="476.5" y2="404.5" stroke="#363636" stroke-width="1.1" />
<text x="476.5" y="416" font-size="9" text-anchor="middle" fill="#262626" >80</text>
<line x1="514.5" y1="401.5" x2="514.5" y2="404.5" stroke="#363636" stroke-width="1.1" />
<text x="514.5" y="416" font-size="9" text-anchor="middle" fill="#262626" >100</text>
<text x="411.2" y="424.9" font-size="9" text-anchor="middle" fill="#262626" >Time (h)</text>
<text x="0" y="0" font-size="9.2" text-anchor="middle" fill="#262626" transform="translate(283.3 342.3) rotate(-90)" dy="3.22">OD600; Acetate (g/L);</text>
<text x="0" y="0" font-size="9.2" text-anchor="middle" fill="#262626" transform="translate(294 342.3) rotate(-90)" dy="3.22">Glycolate (g/L)</text>
<text x="0" y="0" font-size="9.1" text-anchor="middle" fill="#262626" transform="translate(542.2 341.3) rotate(-90)" dy="3.18">Glucose (g/L)</text>
<clipPath id="c2"><rect x="320.5" y="281.5" width="198" height="118.5"/></clipPath>
<g clip-path="url(#c2)">
<line x1="363.45" y1="388.67" x2="363.45" y2="394.67" stroke="#625d5d" stroke-width="1" />
<line x1="360.45" y1="388.67" x2="366.45" y2="388.67" stroke="#625d5d" stroke-width="1" />
<line x1="360.45" y1="394.67" x2="366.45" y2="394.67" stroke="#625d5d" stroke-width="1" />
<line x1="370.1" y1="389.85" x2="370.1" y2="395.85" stroke="#625d5d" stroke-width="1" />
<line x1="367.1" y1="389.85" x2="373.1" y2="389.85" stroke="#625d5d" stroke-width="1" />
<line x1="367.1" y1="395.85" x2="373.1" y2="395.85" stroke="#625d5d" stroke-width="1" />
<line x1="402.4" y1="391.42" x2="402.4" y2="397.42" stroke="#625d5d" stroke-width="1" />
<line x1="399.4" y1="391.42" x2="405.4" y2="391.42" stroke="#625d5d" stroke-width="1" />
<line x1="399.4" y1="397.42" x2="405.4" y2="397.42" stroke="#625d5d" stroke-width="1" />
<line x1="410" y1="391.42" x2="410" y2="397.42" stroke="#625d5d" stroke-width="1" />
<line x1="407" y1="391.42" x2="413" y2="391.42" stroke="#625d5d" stroke-width="1" />
<line x1="407" y1="397.42" x2="413" y2="397.42" stroke="#625d5d" stroke-width="1" />
<line x1="425.2" y1="391.81" x2="425.2" y2="397.81" stroke="#625d5d" stroke-width="1" />
<line x1="422.2" y1="391.81" x2="428.2" y2="391.81" stroke="#625d5d" stroke-width="1" />
<line x1="422.2" y1="397.81" x2="428.2" y2="397.81" stroke="#625d5d" stroke-width="1" />
<line x1="332.1" y1="386.78" x2="332.1" y2="406.78" stroke="#625d5d" stroke-width="1" />
<line x1="329.1" y1="386.78" x2="335.1" y2="386.78" stroke="#625d5d" stroke-width="1" />
<line x1="329.1" y1="406.78" x2="335.1" y2="406.78" stroke="#625d5d" stroke-width="1" />
<line x1="338.75" y1="371.83" x2="338.75" y2="391.83" stroke="#625d5d" stroke-width="1" />
<line x1="335.75" y1="371.83" x2="341.75" y2="371.83" stroke="#625d5d" stroke-width="1" />
<line x1="335.75" y1="391.83" x2="341.75" y2="391.83" stroke="#625d5d" stroke-width="1" />
<line x1="354.9" y1="365.93" x2="354.9" y2="385.93" stroke="#625d5d" stroke-width="1" />
<line x1="351.9" y1="365.93" x2="357.9" y2="365.93" stroke="#625d5d" stroke-width="1" />
<line x1="351.9" y1="385.93" x2="357.9" y2="385.93" stroke="#625d5d" stroke-width="1" />
<line x1="363.45" y1="360.03" x2="363.45" y2="380.03" stroke="#625d5d" stroke-width="1" />
<line x1="360.45" y1="360.03" x2="366.45" y2="360.03" stroke="#625d5d" stroke-width="1" />
<line x1="360.45" y1="380.03" x2="366.45" y2="380.03" stroke="#625d5d" stroke-width="1" />
<line x1="370.1" y1="345.87" x2="370.1" y2="365.87" stroke="#625d5d" stroke-width="1" />
<line x1="367.1" y1="345.87" x2="373.1" y2="345.87" stroke="#625d5d" stroke-width="1" />
<line x1="367.1" y1="365.87" x2="373.1" y2="365.87" stroke="#625d5d" stroke-width="1" />
<line x1="402.4" y1="310.87" x2="402.4" y2="330.87" stroke="#625d5d" stroke-width="1" />
<line x1="399.4" y1="310.87" x2="405.4" y2="310.87" stroke="#625d5d" stroke-width="1" />
<line x1="399.4" y1="330.87" x2="405.4" y2="330.87" stroke="#625d5d" stroke-width="1" />
<line x1="410" y1="306.93" x2="410" y2="326.93" stroke="#625d5d" stroke-width="1" />
<line x1="407" y1="306.93" x2="413" y2="306.93" stroke="#625d5d" stroke-width="1" />
<line x1="407" y1="326.93" x2="413" y2="326.93" stroke="#625d5d" stroke-width="1" />
<line x1="425.2" y1="313.62" x2="425.2" y2="333.62" stroke="#625d5d" stroke-width="1" />
<line x1="422.2" y1="313.62" x2="428.2" y2="313.62" stroke="#625d5d" stroke-width="1" />
<line x1="422.2" y1="333.62" x2="428.2" y2="333.62" stroke="#625d5d" stroke-width="1" />
<line x1="448" y1="308.11" x2="448" y2="328.11" stroke="#625d5d" stroke-width="1" />
<line x1="445" y1="308.11" x2="451" y2="308.11" stroke="#625d5d" stroke-width="1" />
<line x1="445" y1="328.11" x2="451" y2="328.11" stroke="#625d5d" stroke-width="1" />
<line x1="468.9" y1="313.23" x2="468.9" y2="333.23" stroke="#625d5d" stroke-width="1" />
<line x1="465.9" y1="313.23" x2="471.9" y2="313.23" stroke="#625d5d" stroke-width="1" />
<line x1="465.9" y1="333.23" x2="471.9" y2="333.23" stroke="#625d5d" stroke-width="1" />
<line x1="493.6" y1="304.97" x2="493.6" y2="324.97" stroke="#625d5d" stroke-width="1" />
<line x1="490.6" y1="304.97" x2="496.6" y2="304.97" stroke="#625d5d" stroke-width="1" />
<line x1="490.6" y1="324.97" x2="496.6" y2="324.97" stroke="#625d5d" stroke-width="1" />
<line x1="332.1" y1="363.91" x2="332.1" y2="379.31" stroke="#625d5d" stroke-width="1" />
<line x1="329.1" y1="363.91" x2="335.1" y2="363.91" stroke="#625d5d" stroke-width="1" />
<line x1="329.1" y1="379.31" x2="335.1" y2="379.31" stroke="#625d5d" stroke-width="1" />
<line x1="338.75" y1="351.41" x2="338.75" y2="367.41" stroke="#625d5d" stroke-width="1" />
<line x1="335.75" y1="351.41" x2="341.75" y2="351.41" stroke="#625d5d" stroke-width="1" />
<line x1="335.75" y1="367.41" x2="341.75" y2="367.41" stroke="#625d5d" stroke-width="1" />
<line x1="354.9" y1="319.85" x2="354.9" y2="335.25" stroke="#625d5d" stroke-width="1" />
<line x1="351.9" y1="319.85" x2="357.9" y2="319.85" stroke="#625d5d" stroke-width="1" />
<line x1="351.9" y1="335.25" x2="357.9" y2="335.25" stroke="#625d5d" stroke-width="1" />
<line x1="363.45" y1="308.94" x2="363.45" y2="324.14" stroke="#625d5d" stroke-width="1" />
<line x1="360.45" y1="308.94" x2="366.45" y2="308.94" stroke="#625d5d" stroke-width="1" />
<line x1="360.45" y1="324.14" x2="366.45" y2="324.14" stroke="#625d5d" stroke-width="1" />
<line x1="370.1" y1="319.85" x2="370.1" y2="335.25" stroke="#625d5d" stroke-width="1" />
<line x1="367.1" y1="319.85" x2="373.1" y2="319.85" stroke="#625d5d" stroke-width="1" />
<line x1="367.1" y1="335.25" x2="373.1" y2="335.25" stroke="#625d5d" stroke-width="1" />
<line x1="402.4" y1="307.57" x2="402.4" y2="322.37" stroke="#625d5d" stroke-width="1" />
<line x1="399.4" y1="307.57" x2="405.4" y2="307.57" stroke="#625d5d" stroke-width="1" />
<line x1="399.4" y1="322.37" x2="405.4" y2="322.37" stroke="#625d5d" stroke-width="1" />
<line x1="410" y1="313.87" x2="410" y2="327.87" stroke="#625d5d" stroke-width="1" />
<line x1="407" y1="313.87" x2="413" y2="313.87" stroke="#625d5d" stroke-width="1" />
<line x1="407" y1="327.87" x2="413" y2="327.87" stroke="#625d5d" stroke-width="1" />
<line x1="425.2" y1="323.12" x2="425.2" y2="335.92" stroke="#625d5d" stroke-width="1" />
<line x1="422.2" y1="323.12" x2="428.2" y2="323.12" stroke="#625d5d" stroke-width="1" />
<line x1="422.2" y1="335.92" x2="428.2" y2="335.92" stroke="#625d5d" stroke-width="1" />
<line x1="448" y1="317.98" x2="448" y2="333.98" stroke="#625d5d" stroke-width="1" />
<line x1="445" y1="317.98" x2="451" y2="317.98" stroke="#625d5d" stroke-width="1" />
<line x1="445" y1="333.98" x2="451" y2="333.98" stroke="#625d5d" stroke-width="1" />
<line x1="468.9" y1="325.27" x2="468.9" y2="339.27" stroke="#625d5d" stroke-width="1" />
<line x1="465.9" y1="325.27" x2="471.9" y2="325.27" stroke="#625d5d" stroke-width="1" />
<line x1="465.9" y1="339.27" x2="471.9" y2="339.27" stroke="#625d5d" stroke-width="1" />
<line x1="493.6" y1="314.87" x2="493.6" y2="326.87" stroke="#625d5d" stroke-width="1" />
<line x1="490.6" y1="314.87" x2="496.6" y2="314.87" stroke="#625d5d" stroke-width="1" />
<line x1="490.6" y1="326.87" x2="496.6" y2="326.87" stroke="#625d5d" stroke-width="1" />
<line x1="324.5" y1="294.24" x2="324.5" y2="315.24" stroke="#625d5d" stroke-width="1" />
<line x1="321.5" y1="294.24" x2="327.5" y2="294.24" stroke="#625d5d" stroke-width="1" />
<line x1="321.5" y1="315.24" x2="327.5" y2="315.24" stroke="#625d5d" stroke-width="1" />
<line x1="332.1" y1="301.13" x2="332.1" y2="321.73" stroke="#625d5d" stroke-width="1" />
<line x1="329.1" y1="301.13" x2="335.1" y2="301.13" stroke="#625d5d" stroke-width="1" />
<line x1="329.1" y1="321.73" x2="335.1" y2="321.73" stroke="#625d5d" stroke-width="1" />
<line x1="338.75" y1="362.71" x2="338.75" y2="368.71" stroke="#625d5d" stroke-width="1" />
<line x1="335.75" y1="362.71" x2="341.75" y2="362.71" stroke="#625d5d" stroke-width="1" />
<line x1="335.75" y1="368.71" x2="341.75" y2="368.71" stroke="#625d5d" stroke-width="1" />
<line x1="354.9" y1="360.51" x2="354.9" y2="381.91" stroke="#625d5d" stroke-width="1" />
<line x1="351.9" y1="360.51" x2="357.9" y2="360.51" stroke="#625d5d" stroke-width="1" />
<line x1="351.9" y1="381.91" x2="357.9" y2="381.91" stroke="#625d5d" stroke-width="1" />
<line x1="363.45" y1="371.36" x2="363.45" y2="377.36" stroke="#625d5d" stroke-width="1" />
<line x1="360.45" y1="371.36" x2="366.45" y2="371.36" stroke="#625d5d" stroke-width="1" />
<line x1="360.45" y1="377.36" x2="366.45" y2="377.36" stroke="#625d5d" stroke-width="1" />
</g>
<path d="M324.5,401.5 C325.77,401.37 329.73,401.37 332.1,400.71 C334.48,400.06 334.95,399.6 338.75,397.57 C342.55,395.53 350.78,389.5 354.9,388.52 C359.02,387.54 360.92,390.95 363.45,391.67 C365.98,392.39 363.61,392.39 370.1,392.85 C376.59,393.31 395.75,394.16 402.4,394.42 C409.05,394.68 406.2,394.35 410,394.42 C413.8,394.49 418.87,395.53 425.2,394.81 C431.53,394.09 440.72,391.01 448,390.09 C455.28,389.18 461.3,389.37 468.9,389.31 C476.5,389.24 489.48,389.63 493.6,389.7" fill="none" stroke="#f4661f" stroke-width="1.9" stroke-linejoin="round" clip-path="url(#c2)"/>
<circle cx="324.5" cy="401.5" r="3.2" fill="#f4661f" />
<circle cx="332.1" cy="400.71" r="3.2" fill="#f4661f" />
<circle cx="338.75" cy="397.57" r="3.2" fill="#f4661f" />
<circle cx="354.9" cy="388.52" r="3.2" fill="#f4661f" />
<circle cx="363.45" cy="391.67" r="3.2" fill="#f4661f" />
<circle cx="370.1" cy="392.85" r="3.2" fill="#f4661f" />
<circle cx="402.4" cy="394.42" r="3.2" fill="#f4661f" />
<circle cx="410" cy="394.42" r="3.2" fill="#f4661f" />
<circle cx="425.2" cy="394.81" r="3.2" fill="#f4661f" />
<circle cx="448" cy="390.09" r="3.2" fill="#f4661f" />
<circle cx="468.9" cy="389.31" r="3.2" fill="#f4661f" />
<circle cx="493.6" cy="389.7" r="3.2" fill="#f4661f" />
<path d="M324.5,401.5 C325.77,400.71 329.73,400.06 332.1,396.78 C334.48,393.5 334.95,385.31 338.75,381.83 C342.55,378.36 350.78,377.9 354.9,375.93 C359.02,373.97 360.92,373.38 363.45,370.03 C365.98,366.69 363.61,364.07 370.1,355.87 C376.59,347.68 395.75,327.36 402.4,320.87 C409.05,314.38 406.2,316.47 410,316.93 C413.8,317.39 418.87,323.42 425.2,323.62 C431.53,323.82 440.72,318.18 448,318.11 C455.28,318.05 461.3,323.75 468.9,323.23 C476.5,322.7 489.48,316.34 493.6,314.97" fill="none" stroke="#a39f9f" stroke-width="1.9" stroke-linejoin="round" clip-path="url(#c2)"/>
<circle cx="324.5" cy="401.5" r="3.2" fill="#a39f9f" />
<circle cx="332.1" cy="396.78" r="3.2" fill="#a39f9f" />
<circle cx="338.75" cy="381.83" r="3.2" fill="#a39f9f" />
<circle cx="354.9" cy="375.93" r="3.2" fill="#a39f9f" />
<circle cx="363.45" cy="370.03" r="3.2" fill="#a39f9f" />
<circle cx="370.1" cy="355.87" r="3.2" fill="#a39f9f" />
<circle cx="402.4" cy="320.87" r="3.2" fill="#a39f9f" />
<circle cx="410" cy="316.93" r="3.2" fill="#a39f9f" />
<circle cx="425.2" cy="323.62" r="3.2" fill="#a39f9f" />
<circle cx="448" cy="318.11" r="3.2" fill="#a39f9f" />
<circle cx="468.9" cy="323.23" r="3.2" fill="#a39f9f" />
<circle cx="493.6" cy="314.97" r="3.2" fill="#a39f9f" />
<path d="M324.5,396.78 C325.77,392.58 329.73,377.83 332.1,371.61 C334.48,365.38 334.95,366.76 338.75,359.41 C342.55,352.07 350.78,334.7 354.9,327.55 C359.02,320.41 360.92,316.54 363.45,316.54 C365.98,316.54 363.61,327.82 370.1,327.55 C376.59,327.29 395.75,316.08 402.4,314.97 C409.05,313.85 406.2,318.44 410,320.87 C413.8,323.29 418.87,328.67 425.2,329.52 C431.53,330.37 440.72,325.52 448,325.98 C455.28,326.44 461.3,333.13 468.9,332.27 C476.5,331.42 489.48,322.77 493.6,320.87" fill="none" stroke="#ffad18" stroke-width="1.9" stroke-linejoin="round" clip-path="url(#c2)"/>
<circle cx="324.5" cy="396.78" r="3.2" fill="#ffad18" />
<circle cx="332.1" cy="371.61" r="3.2" fill="#ffad18" />
<circle cx="338.75" cy="359.41" r="3.2" fill="#ffad18" />
<circle cx="354.9" cy="327.55" r="3.2" fill="#ffad18" />
<circle cx="363.45" cy="316.54" r="3.2" fill="#ffad18" />
<circle cx="370.1" cy="327.55" r="3.2" fill="#ffad18" />
<circle cx="402.4" cy="314.97" r="3.2" fill="#ffad18" />
<circle cx="410" cy="320.87" r="3.2" fill="#ffad18" />
<circle cx="425.2" cy="329.52" r="3.2" fill="#ffad18" />
<circle cx="448" cy="325.98" r="3.2" fill="#ffad18" />
<circle cx="468.9" cy="332.27" r="3.2" fill="#ffad18" />
<circle cx="493.6" cy="320.87" r="3.2" fill="#ffad18" />
<path d="M324.5,304.74 C325.77,305.85 329.73,301.27 332.1,311.43 C334.48,321.59 334.95,355.74 338.75,365.71 C342.55,375.67 350.78,369.77 354.9,371.21 C359.02,372.66 360.92,369.31 363.45,374.36 C365.98,379.41 363.61,396.98 370.1,401.5 C376.59,406.02 395.75,401.5 402.4,401.5 C409.05,401.5 406.2,401.5 410,401.5 C413.8,401.5 418.87,401.5 425.2,401.5 C431.53,401.5 440.72,401.5 448,401.5 C455.28,401.5 461.3,401.5 468.9,401.5 C476.5,401.5 489.48,401.5 493.6,401.5" fill="none" stroke="#4466b8" stroke-width="1.9" stroke-linejoin="round" clip-path="url(#c2)"/>
<circle cx="324.5" cy="304.74" r="3.2" fill="#4466b8" />
<circle cx="332.1" cy="311.43" r="3.2" fill="#4466b8" />
<circle cx="338.75" cy="365.71" r="3.2" fill="#4466b8" />
<circle cx="354.9" cy="371.21" r="3.2" fill="#4466b8" />
<circle cx="363.45" cy="374.36" r="3.2" fill="#4466b8" />
<circle cx="370.1" cy="401.5" r="3.2" fill="#4466b8" />
<circle cx="402.4" cy="401.5" r="3.2" fill="#4466b8" />
<circle cx="410" cy="401.5" r="3.2" fill="#4466b8" />
<circle cx="425.2" cy="401.5" r="3.2" fill="#4466b8" />
<circle cx="448" cy="401.5" r="3.2" fill="#4466b8" />
<circle cx="468.9" cy="401.5" r="3.2" fill="#4466b8" />
<circle cx="493.6" cy="401.5" r="3.2" fill="#4466b8" />
<line x1="291.5" y1="436.5" x2="314.4" y2="436.5" stroke="#f4661f" stroke-width="1.9" />
<circle cx="302.95" cy="436.5" r="2.7" fill="#f4661f" />
<text x="316.4" y="439.7" font-size="9.15" text-anchor="start" fill="#262626" >Glycolate</text>
<line x1="356.4" y1="436.5" x2="380.5" y2="436.5" stroke="#a39f9f" stroke-width="1.9" />
<circle cx="368.45" cy="436.5" r="2.7" fill="#a39f9f" />
<text x="383" y="439.7" font-size="9.15" text-anchor="start" fill="#262626" >Acetate</text>
<line x1="417.6" y1="436.5" x2="440" y2="436.5" stroke="#ffad18" stroke-width="1.9" />
<circle cx="428.8" cy="436.5" r="2.7" fill="#ffad18" />
<text x="441.8" y="439.7" font-size="9.15" text-anchor="start" fill="#262626" >OD600</text>
<line x1="474.9" y1="436.5" x2="497.3" y2="436.5" stroke="#4466b8" stroke-width="1.9" />
<circle cx="486.1" cy="436.5" r="2.7" fill="#4466b8" />
<text x="499.6" y="439.7" font-size="9.15" text-anchor="start" fill="#262626" >Glucose</text>
<path d="M51.5,509.5 H237.5 V624.5 H51.5 Z" fill="none" stroke="#363636" stroke-width="1.15"/>
<line x1="48.5" y1="624.5" x2="51.5" y2="624.5" stroke="#363636" stroke-width="1.1" />
<text x="43.4" y="627.7" font-size="9" text-anchor="end" fill="#262626" >0</text>
<line x1="48.5" y1="605.33" x2="51.5" y2="605.33" stroke="#363636" stroke-width="1.1" />
<text x="43.4" y="608.53" font-size="9" text-anchor="end" fill="#262626" >0.5</text>
<line x1="48.5" y1="586.17" x2="51.5" y2="586.17" stroke="#363636" stroke-width="1.1" />
<text x="43.4" y="589.37" font-size="9" text-anchor="end" fill="#262626" >1</text>
<line x1="48.5" y1="567" x2="51.5" y2="567" stroke="#363636" stroke-width="1.1" />
<text x="43.4" y="570.2" font-size="9" text-anchor="end" fill="#262626" >1.5</text>
<line x1="48.5" y1="547.83" x2="51.5" y2="547.83" stroke="#363636" stroke-width="1.1" />
<text x="43.4" y="551.03" font-size="9" text-anchor="end" fill="#262626" >2</text>
<line x1="48.5" y1="528.67" x2="51.5" y2="528.67" stroke="#363636" stroke-width="1.1" />
<text x="43.4" y="531.87" font-size="9" text-anchor="end" fill="#262626" >2.5</text>
<line x1="48.5" y1="509.5" x2="51.5" y2="509.5" stroke="#363636" stroke-width="1.1" />
<text x="43.4" y="512.7" font-size="9" text-anchor="end" fill="#262626" >3</text>
<line x1="237.5" y1="624.5" x2="240.5" y2="624.5" stroke="#363636" stroke-width="1.1" />
<text x="246.3" y="627.7" font-size="9" text-anchor="start" fill="#262626" >0</text>
<line x1="237.5" y1="605.33" x2="240.5" y2="605.33" stroke="#363636" stroke-width="1.1" />
<text x="246.3" y="608.53" font-size="9" text-anchor="start" fill="#262626" >2</text>
<line x1="237.5" y1="586.17" x2="240.5" y2="586.17" stroke="#363636" stroke-width="1.1" />
<text x="246.3" y="589.37" font-size="9" text-anchor="start" fill="#262626" >4</text>
<line x1="237.5" y1="567" x2="240.5" y2="567" stroke="#363636" stroke-width="1.1" />
<text x="246.3" y="570.2" font-size="9" text-anchor="start" fill="#262626" >6</text>
<line x1="237.5" y1="547.83" x2="240.5" y2="547.83" stroke="#363636" stroke-width="1.1" />
<text x="246.3" y="551.03" font-size="9" text-anchor="start" fill="#262626" >8</text>
<line x1="237.5" y1="528.67" x2="240.5" y2="528.67" stroke="#363636" stroke-width="1.1" />
<text x="246.3" y="531.87" font-size="9" text-anchor="start" fill="#262626" >10</text>
<line x1="237.5" y1="509.5" x2="240.5" y2="509.5" stroke="#363636" stroke-width="1.1" />
<text x="246.3" y="512.7" font-size="9" text-anchor="start" fill="#262626" >12</text>
<line x1="51.5" y1="624.5" x2="51.5" y2="627.5" stroke="#363636" stroke-width="1.1" />
<text x="51.5" y="638.7" font-size="9" text-anchor="middle" fill="#262626" >0</text>
<line x1="88.7" y1="624.5" x2="88.7" y2="627.5" stroke="#363636" stroke-width="1.1" />
<text x="88.7" y="638.7" font-size="9" text-anchor="middle" fill="#262626" >20</text>
<line x1="125.9" y1="624.5" x2="125.9" y2="627.5" stroke="#363636" stroke-width="1.1" />
<text x="125.9" y="638.7" font-size="9" text-anchor="middle" fill="#262626" >40</text>
<line x1="163.1" y1="624.5" x2="163.1" y2="627.5" stroke="#363636" stroke-width="1.1" />
<text x="163.1" y="638.7" font-size="9" text-anchor="middle" fill="#262626" >60</text>
<line x1="200.3" y1="624.5" x2="200.3" y2="627.5" stroke="#363636" stroke-width="1.1" />
<text x="200.3" y="638.7" font-size="9" text-anchor="middle" fill="#262626" >80</text>
<line x1="237.5" y1="624.5" x2="237.5" y2="627.5" stroke="#363636" stroke-width="1.1" />
<text x="237.5" y="638.7" font-size="9" text-anchor="middle" fill="#262626" >100</text>
<text x="134.7" y="653.7" font-size="9" text-anchor="middle" fill="#262626" >Time (h)</text>
<text x="0" y="0" font-size="9.2" text-anchor="middle" fill="#262626" transform="translate(7.8 568.1) rotate(-90)" dy="3.22">OD600; Acetate (g/L);</text>
<text x="0" y="0" font-size="9.2" text-anchor="middle" fill="#262626" transform="translate(18.5 568.1) rotate(-90)" dy="3.22">Glycolate (g/L)</text>
<text x="0" y="0" font-size="9.1" text-anchor="middle" fill="#262626" transform="translate(263.6 569.7) rotate(-90)" dy="3.18">Glucose (g/L)</text>
<clipPath id="c3"><rect x="47.5" y="507.5" width="194" height="115.5"/></clipPath>
<g clip-path="url(#c3)">
<line x1="58.94" y1="599.5" x2="58.94" y2="603.5" stroke="#625d5d" stroke-width="1" />
<line x1="55.94" y1="599.5" x2="61.94" y2="599.5" stroke="#625d5d" stroke-width="1" />
<line x1="55.94" y1="603.5" x2="61.94" y2="603.5" stroke="#625d5d" stroke-width="1" />
<line x1="65.45" y1="611" x2="65.45" y2="615" stroke="#625d5d" stroke-width="1" />
<line x1="62.45" y1="611" x2="68.45" y2="611" stroke="#625d5d" stroke-width="1" />
<line x1="62.45" y1="615" x2="68.45" y2="615" stroke="#625d5d" stroke-width="1" />
<line x1="81.26" y1="605.32" x2="81.26" y2="615.32" stroke="#625d5d" stroke-width="1" />
<line x1="78.26" y1="605.32" x2="84.26" y2="605.32" stroke="#625d5d" stroke-width="1" />
<line x1="78.26" y1="615.32" x2="84.26" y2="615.32" stroke="#625d5d" stroke-width="1" />
<line x1="89.63" y1="608" x2="89.63" y2="618" stroke="#625d5d" stroke-width="1" />
<line x1="86.63" y1="608" x2="92.63" y2="608" stroke="#625d5d" stroke-width="1" />
<line x1="86.63" y1="618" x2="92.63" y2="618" stroke="#625d5d" stroke-width="1" />
<line x1="96.14" y1="608" x2="96.14" y2="618" stroke="#625d5d" stroke-width="1" />
<line x1="93.14" y1="608" x2="99.14" y2="608" stroke="#625d5d" stroke-width="1" />
<line x1="93.14" y1="618" x2="99.14" y2="618" stroke="#625d5d" stroke-width="1" />
<line x1="127.76" y1="594.13" x2="127.76" y2="598.13" stroke="#625d5d" stroke-width="1" />
<line x1="124.76" y1="594.13" x2="130.76" y2="594.13" stroke="#625d5d" stroke-width="1" />
<line x1="124.76" y1="598.13" x2="130.76" y2="598.13" stroke="#625d5d" stroke-width="1" />
<line x1="135.2" y1="595.28" x2="135.2" y2="599.28" stroke="#625d5d" stroke-width="1" />
<line x1="132.2" y1="595.28" x2="138.2" y2="595.28" stroke="#625d5d" stroke-width="1" />
<line x1="132.2" y1="599.28" x2="138.2" y2="599.28" stroke="#625d5d" stroke-width="1" />
<line x1="150.08" y1="589.53" x2="150.08" y2="593.53" stroke="#625d5d" stroke-width="1" />
<line x1="147.08" y1="589.53" x2="153.08" y2="589.53" stroke="#625d5d" stroke-width="1" />
<line x1="147.08" y1="593.53" x2="153.08" y2="593.53" stroke="#625d5d" stroke-width="1" />
<line x1="172.4" y1="595.28" x2="172.4" y2="599.28" stroke="#625d5d" stroke-width="1" />
<line x1="169.4" y1="595.28" x2="175.4" y2="595.28" stroke="#625d5d" stroke-width="1" />
<line x1="169.4" y1="599.28" x2="175.4" y2="599.28" stroke="#625d5d" stroke-width="1" />
<line x1="192.86" y1="595.28" x2="192.86" y2="599.28" stroke="#625d5d" stroke-width="1" />
<line x1="189.86" y1="595.28" x2="195.86" y2="595.28" stroke="#625d5d" stroke-width="1" />
<line x1="189.86" y1="599.28" x2="195.86" y2="599.28" stroke="#625d5d" stroke-width="1" />
<line x1="217.04" y1="596.05" x2="217.04" y2="600.05" stroke="#625d5d" stroke-width="1" />
<line x1="214.04" y1="596.05" x2="220.04" y2="596.05" stroke="#625d5d" stroke-width="1" />
<line x1="214.04" y1="600.05" x2="220.04" y2="600.05" stroke="#625d5d" stroke-width="1" />
<line x1="58.94" y1="589.13" x2="58.94" y2="603.13" stroke="#625d5d" stroke-width="1" />
<line x1="55.94" y1="589.13" x2="61.94" y2="589.13" stroke="#625d5d" stroke-width="1" />
<line x1="55.94" y1="603.13" x2="61.94" y2="603.13" stroke="#625d5d" stroke-width="1" />
<line x1="65.45" y1="566.12" x2="65.45" y2="580.92" stroke="#625d5d" stroke-width="1" />
<line x1="62.45" y1="566.12" x2="68.45" y2="566.12" stroke="#625d5d" stroke-width="1" />
<line x1="62.45" y1="580.92" x2="68.45" y2="580.92" stroke="#625d5d" stroke-width="1" />
<line x1="81.26" y1="532.57" x2="81.26" y2="547.77" stroke="#625d5d" stroke-width="1" />
<line x1="78.26" y1="532.57" x2="84.26" y2="532.57" stroke="#625d5d" stroke-width="1" />
<line x1="78.26" y1="547.77" x2="84.26" y2="547.77" stroke="#625d5d" stroke-width="1" />
<line x1="89.63" y1="532.38" x2="89.63" y2="547.18" stroke="#625d5d" stroke-width="1" />
<line x1="86.63" y1="532.38" x2="92.63" y2="532.38" stroke="#625d5d" stroke-width="1" />
<line x1="86.63" y1="547.18" x2="92.63" y2="547.18" stroke="#625d5d" stroke-width="1" />
<line x1="96.14" y1="519.53" x2="96.14" y2="534.73" stroke="#625d5d" stroke-width="1" />
<line x1="93.14" y1="519.53" x2="99.14" y2="519.53" stroke="#625d5d" stroke-width="1" />
<line x1="93.14" y1="534.73" x2="99.14" y2="534.73" stroke="#625d5d" stroke-width="1" />
<line x1="127.76" y1="538.52" x2="127.76" y2="553.32" stroke="#625d5d" stroke-width="1" />
<line x1="124.76" y1="538.52" x2="130.76" y2="538.52" stroke="#625d5d" stroke-width="1" />
<line x1="124.76" y1="553.32" x2="130.76" y2="553.32" stroke="#625d5d" stroke-width="1" />
<line x1="135.2" y1="546.95" x2="135.2" y2="561.75" stroke="#625d5d" stroke-width="1" />
<line x1="132.2" y1="546.95" x2="138.2" y2="546.95" stroke="#625d5d" stroke-width="1" />
<line x1="132.2" y1="561.75" x2="138.2" y2="561.75" stroke="#625d5d" stroke-width="1" />
<line x1="150.08" y1="556.15" x2="150.08" y2="570.95" stroke="#625d5d" stroke-width="1" />
<line x1="147.08" y1="556.15" x2="153.08" y2="556.15" stroke="#625d5d" stroke-width="1" />
<line x1="147.08" y1="570.95" x2="153.08" y2="570.95" stroke="#625d5d" stroke-width="1" />
<line x1="172.4" y1="553.08" x2="172.4" y2="567.88" stroke="#625d5d" stroke-width="1" />
<line x1="169.4" y1="553.08" x2="175.4" y2="553.08" stroke="#625d5d" stroke-width="1" />
<line x1="169.4" y1="567.88" x2="175.4" y2="567.88" stroke="#625d5d" stroke-width="1" />
<line x1="192.86" y1="553.85" x2="192.86" y2="568.65" stroke="#625d5d" stroke-width="1" />
<line x1="189.86" y1="553.85" x2="195.86" y2="553.85" stroke="#625d5d" stroke-width="1" />
<line x1="189.86" y1="568.65" x2="195.86" y2="568.65" stroke="#625d5d" stroke-width="1" />
<line x1="217.04" y1="557.68" x2="217.04" y2="572.48" stroke="#625d5d" stroke-width="1" />
<line x1="214.04" y1="557.68" x2="220.04" y2="557.68" stroke="#625d5d" stroke-width="1" />
<line x1="214.04" y1="572.48" x2="220.04" y2="572.48" stroke="#625d5d" stroke-width="1" />
<line x1="51.5" y1="517.67" x2="51.5" y2="539.67" stroke="#625d5d" stroke-width="1" />
<line x1="48.5" y1="517.67" x2="54.5" y2="517.67" stroke="#625d5d" stroke-width="1" />
<line x1="48.5" y1="539.67" x2="54.5" y2="539.67" stroke="#625d5d" stroke-width="1" />
<line x1="58.94" y1="527.25" x2="58.94" y2="549.25" stroke="#625d5d" stroke-width="1" />
<line x1="55.94" y1="527.25" x2="61.94" y2="527.25" stroke="#625d5d" stroke-width="1" />
<line x1="55.94" y1="549.25" x2="61.94" y2="549.25" stroke="#625d5d" stroke-width="1" />
<line x1="65.45" y1="542.97" x2="65.45" y2="564.97" stroke="#625d5d" stroke-width="1" />
<line x1="62.45" y1="542.97" x2="68.45" y2="542.97" stroke="#625d5d" stroke-width="1" />
<line x1="62.45" y1="564.97" x2="68.45" y2="564.97" stroke="#625d5d" stroke-width="1" />
<line x1="81.26" y1="585.05" x2="81.26" y2="606.45" stroke="#625d5d" stroke-width="1" />
<line x1="78.26" y1="585.05" x2="84.26" y2="585.05" stroke="#625d5d" stroke-width="1" />
<line x1="78.26" y1="606.45" x2="84.26" y2="606.45" stroke="#625d5d" stroke-width="1" />
<line x1="127.76" y1="613.8" x2="127.76" y2="635.2" stroke="#625d5d" stroke-width="1" />
<line x1="124.76" y1="613.8" x2="130.76" y2="613.8" stroke="#625d5d" stroke-width="1" />
<line x1="124.76" y1="635.2" x2="130.76" y2="635.2" stroke="#625d5d" stroke-width="1" />
<line x1="135.2" y1="613.8" x2="135.2" y2="635.2" stroke="#625d5d" stroke-width="1" />
<line x1="132.2" y1="613.8" x2="138.2" y2="613.8" stroke="#625d5d" stroke-width="1" />
<line x1="132.2" y1="635.2" x2="138.2" y2="635.2" stroke="#625d5d" stroke-width="1" />
<line x1="150.08" y1="613.8" x2="150.08" y2="635.2" stroke="#625d5d" stroke-width="1" />
<line x1="147.08" y1="613.8" x2="153.08" y2="613.8" stroke="#625d5d" stroke-width="1" />
<line x1="147.08" y1="635.2" x2="153.08" y2="635.2" stroke="#625d5d" stroke-width="1" />
<line x1="172.4" y1="613.8" x2="172.4" y2="635.2" stroke="#625d5d" stroke-width="1" />
<line x1="169.4" y1="613.8" x2="175.4" y2="613.8" stroke="#625d5d" stroke-width="1" />
<line x1="169.4" y1="635.2" x2="175.4" y2="635.2" stroke="#625d5d" stroke-width="1" />
<line x1="192.86" y1="613.8" x2="192.86" y2="635.2" stroke="#625d5d" stroke-width="1" />
<line x1="189.86" y1="613.8" x2="195.86" y2="613.8" stroke="#625d5d" stroke-width="1" />
<line x1="189.86" y1="635.2" x2="195.86" y2="635.2" stroke="#625d5d" stroke-width="1" />
<line x1="217.04" y1="613.8" x2="217.04" y2="635.2" stroke="#625d5d" stroke-width="1" />
<line x1="214.04" y1="613.8" x2="220.04" y2="613.8" stroke="#625d5d" stroke-width="1" />
<line x1="214.04" y1="635.2" x2="220.04" y2="635.2" stroke="#625d5d" stroke-width="1" />
</g>
<path d="M51.5,624.5 C52.74,624.37 56.61,624.69 58.94,623.73 C61.27,622.77 61.73,622.14 65.45,618.75 C69.17,615.36 77.23,605.4 81.26,603.42 C85.29,601.44 87.15,606.1 89.63,606.87 C92.11,607.63 89.78,607.57 96.14,608.02 C102.5,608.46 121.25,608.78 127.76,609.55 C134.27,610.32 131.48,612.74 135.2,612.62 C138.92,612.49 143.88,610.38 150.08,608.78 C156.28,607.19 165.27,603.86 172.4,603.03 C179.53,602.2 185.42,603.8 192.86,603.8 C200.3,603.8 213.01,603.16 217.04,603.03" fill="none" stroke="#f4661f" stroke-width="1.9" stroke-linejoin="round" clip-path="url(#c3)"/>
<circle cx="51.5" cy="624.5" r="3.2" fill="#f4661f" />
<circle cx="58.94" cy="623.73" r="3.2" fill="#f4661f" />
<circle cx="65.45" cy="618.75" r="3.2" fill="#f4661f" />
<circle cx="81.26" cy="603.42" r="3.2" fill="#f4661f" />
<circle cx="89.63" cy="606.87" r="3.2" fill="#f4661f" />
<circle cx="96.14" cy="608.02" r="3.2" fill="#f4661f" />
<circle cx="127.76" cy="609.55" r="3.2" fill="#f4661f" />
<circle cx="135.2" cy="612.62" r="3.2" fill="#f4661f" />
<circle cx="150.08" cy="608.78" r="3.2" fill="#f4661f" />
<circle cx="172.4" cy="603.03" r="3.2" fill="#f4661f" />
<circle cx="192.86" cy="603.8" r="3.2" fill="#f4661f" />
<circle cx="217.04" cy="603.03" r="3.2" fill="#f4661f" />
<path d="M51.5,624.5 C52.74,620.67 56.61,603.42 58.94,601.5 C61.27,599.58 61.73,611.53 65.45,613 C69.17,614.47 77.23,610.32 81.26,610.32 C85.29,610.32 87.15,612.55 89.63,613 C92.11,613.45 89.78,615.81 96.14,613 C102.5,610.19 121.25,598.75 127.76,596.13 C134.27,593.51 131.48,598.05 135.2,597.28 C138.92,596.52 143.88,591.53 150.08,591.53 C156.28,591.53 165.27,596.32 172.4,597.28 C179.53,598.24 185.42,597.16 192.86,597.28 C200.3,597.41 213.01,597.92 217.04,598.05" fill="none" stroke="#a39f9f" stroke-width="1.9" stroke-linejoin="round" clip-path="url(#c3)"/>
<circle cx="51.5" cy="624.5" r="3.2" fill="#a39f9f" />
<circle cx="58.94" cy="601.5" r="3.2" fill="#a39f9f" />
<circle cx="65.45" cy="613" r="3.2" fill="#a39f9f" />
<circle cx="81.26" cy="610.32" r="3.2" fill="#a39f9f" />
<circle cx="89.63" cy="613" r="3.2" fill="#a39f9f" />
<circle cx="96.14" cy="613" r="3.2" fill="#a39f9f" />
<circle cx="127.76" cy="596.13" r="3.2" fill="#a39f9f" />
<circle cx="135.2" cy="597.28" r="3.2" fill="#a39f9f" />
<circle cx="150.08" cy="591.53" r="3.2" fill="#a39f9f" />
<circle cx="172.4" cy="597.28" r="3.2" fill="#a39f9f" />
<circle cx="192.86" cy="597.28" r="3.2" fill="#a39f9f" />
<circle cx="217.04" cy="598.05" r="3.2" fill="#a39f9f" />
<path d="M51.5,620.67 C52.74,616.58 56.61,603.99 58.94,596.13 C61.27,588.27 61.73,582.84 65.45,573.52 C69.17,564.19 77.23,545.79 81.26,540.17 C85.29,534.54 87.15,541.96 89.63,539.78 C92.11,537.61 89.78,526.11 96.14,527.13 C102.5,528.16 121.25,541.38 127.76,545.92 C134.27,550.45 131.48,551.41 135.2,554.35 C138.92,557.29 143.88,562.53 150.08,563.55 C156.28,564.57 165.27,560.87 172.4,560.48 C179.53,560.1 185.42,560.48 192.86,561.25 C200.3,562.02 213.01,564.44 217.04,565.08" fill="none" stroke="#ffad18" stroke-width="1.9" stroke-linejoin="round" clip-path="url(#c3)"/>
<circle cx="51.5" cy="620.67" r="3.2" fill="#ffad18" />
<circle cx="58.94" cy="596.13" r="3.2" fill="#ffad18" />
<circle cx="65.45" cy="573.52" r="3.2" fill="#ffad18" />
<circle cx="81.26" cy="540.17" r="3.2" fill="#ffad18" />
<circle cx="89.63" cy="539.78" r="3.2" fill="#ffad18" />
<circle cx="96.14" cy="527.13" r="3.2" fill="#ffad18" />
<circle cx="127.76" cy="545.92" r="3.2" fill="#ffad18" />
<circle cx="135.2" cy="554.35" r="3.2" fill="#ffad18" />
<circle cx="150.08" cy="563.55" r="3.2" fill="#ffad18" />
<circle cx="172.4" cy="560.48" r="3.2" fill="#ffad18" />
<circle cx="192.86" cy="561.25" r="3.2" fill="#ffad18" />
<circle cx="217.04" cy="565.08" r="3.2" fill="#ffad18" />
<path d="M51.5,528.67 C52.74,530.26 56.61,534.03 58.94,538.25 C61.27,542.47 61.73,544.38 65.45,553.97 C69.17,563.55 77.23,583.99 81.26,595.75 C85.29,607.51 87.15,619.71 89.63,624.5 C92.11,629.29 89.78,624.5 96.14,624.5 C102.5,624.5 121.25,624.5 127.76,624.5 C134.27,624.5 131.48,624.5 135.2,624.5 C138.92,624.5 143.88,624.5 150.08,624.5 C156.28,624.5 165.27,624.5 172.4,624.5 C179.53,624.5 185.42,624.5 192.86,624.5 C200.3,624.5 213.01,624.5 217.04,624.5" fill="none" stroke="#4466b8" stroke-width="1.9" stroke-linejoin="round" clip-path="url(#c3)"/>
<circle cx="51.5" cy="528.67" r="3.2" fill="#4466b8" />
<circle cx="58.94" cy="538.25" r="3.2" fill="#4466b8" />
<circle cx="65.45" cy="553.97" r="3.2" fill="#4466b8" />
<circle cx="81.26" cy="595.75" r="3.2" fill="#4466b8" />
<circle cx="89.63" cy="624.5" r="3.2" fill="#4466b8" />
<circle cx="96.14" cy="624.5" r="3.2" fill="#4466b8" />
<circle cx="127.76" cy="624.5" r="3.2" fill="#4466b8" />
<circle cx="135.2" cy="624.5" r="3.2" fill="#4466b8" />
<circle cx="150.08" cy="624.5" r="3.2" fill="#4466b8" />
<circle cx="172.4" cy="624.5" r="3.2" fill="#4466b8" />
<circle cx="192.86" cy="624.5" r="3.2" fill="#4466b8" />
<circle cx="217.04" cy="624.5" r="3.2" fill="#4466b8" />
<line x1="17.8" y1="663.5" x2="40.7" y2="663.5" stroke="#f4661f" stroke-width="1.9" />
<circle cx="29.25" cy="663.5" r="2.7" fill="#f4661f" />
<text x="42.8" y="666.7" font-size="9.15" text-anchor="start" fill="#262626" >Glycolate</text>
<line x1="85.3" y1="663.5" x2="106.9" y2="663.5" stroke="#a39f9f" stroke-width="1.9" />
<circle cx="96.1" cy="663.5" r="2.7" fill="#a39f9f" />
<text x="109.4" y="666.7" font-size="9.15" text-anchor="start" fill="#262626" >Acetate</text>
<line x1="145.8" y1="663.5" x2="167.1" y2="663.5" stroke="#ffad18" stroke-width="1.9" />
<circle cx="156.45" cy="663.5" r="2.7" fill="#ffad18" />
<text x="168.7" y="666.7" font-size="9.15" text-anchor="start" fill="#262626" >OD600</text>
<line x1="202.1" y1="663.5" x2="222.7" y2="663.5" stroke="#4466b8" stroke-width="1.9" />
<circle cx="212.4" cy="663.5" r="2.7" fill="#4466b8" />
<text x="226" y="666.7" font-size="9.15" text-anchor="start" fill="#262626" >Glucose</text>
<path d="M328.5,507.5 H510.5 V628.5 H328.5 Z" fill="none" stroke="#363636" stroke-width="1.15"/>
<line x1="325.5" y1="628.5" x2="328.5" y2="628.5" stroke="#363636" stroke-width="1.1" />
<text x="319.4" y="631.7" font-size="9" text-anchor="end" fill="#262626" >0</text>
<line x1="325.5" y1="615.06" x2="328.5" y2="615.06" stroke="#363636" stroke-width="1.1" />
<text x="319.4" y="618.26" font-size="9" text-anchor="end" fill="#262626" >0.5</text>
<line x1="325.5" y1="601.61" x2="328.5" y2="601.61" stroke="#363636" stroke-width="1.1" />
<text x="319.4" y="604.81" font-size="9" text-anchor="end" fill="#262626" >1</text>
<line x1="325.5" y1="588.17" x2="328.5" y2="588.17" stroke="#363636" stroke-width="1.1" />
<text x="319.4" y="591.37" font-size="9" text-anchor="end" fill="#262626" >1.5</text>
<line x1="325.5" y1="574.72" x2="328.5" y2="574.72" stroke="#363636" stroke-width="1.1" />
<text x="319.4" y="577.92" font-size="9" text-anchor="end" fill="#262626" >2</text>
<line x1="325.5" y1="561.28" x2="328.5" y2="561.28" stroke="#363636" stroke-width="1.1" />
<text x="319.4" y="564.48" font-size="9" text-anchor="end" fill="#262626" >2.5</text>
<line x1="325.5" y1="547.83" x2="328.5" y2="547.83" stroke="#363636" stroke-width="1.1" />
<text x="319.4" y="551.03" font-size="9" text-anchor="end" fill="#262626" >3</text>
<line x1="325.5" y1="534.39" x2="328.5" y2="534.39" stroke="#363636" stroke-width="1.1" />
<text x="319.4" y="537.59" font-size="9" text-anchor="end" fill="#262626" >3.5</text>
<line x1="325.5" y1="520.94" x2="328.5" y2="520.94" stroke="#363636" stroke-width="1.1" />
<text x="319.4" y="524.14" font-size="9" text-anchor="end" fill="#262626" >4</text>
<line x1="325.5" y1="507.5" x2="328.5" y2="507.5" stroke="#363636" stroke-width="1.1" />
<text x="319.4" y="510.7" font-size="9" text-anchor="end" fill="#262626" >4.5</text>
<line x1="510.5" y1="628.5" x2="513.5" y2="628.5" stroke="#363636" stroke-width="1.1" />
<text x="519.1" y="631.7" font-size="9" text-anchor="start" fill="#262626" >0</text>
<line x1="510.5" y1="616.4" x2="513.5" y2="616.4" stroke="#363636" stroke-width="1.1" />
<text x="519.1" y="619.6" font-size="9" text-anchor="start" fill="#262626" >1</text>
<line x1="510.5" y1="604.3" x2="513.5" y2="604.3" stroke="#363636" stroke-width="1.1" />
<text x="519.1" y="607.5" font-size="9" text-anchor="start" fill="#262626" >2</text>
<line x1="510.5" y1="592.2" x2="513.5" y2="592.2" stroke="#363636" stroke-width="1.1" />
<text x="519.1" y="595.4" font-size="9" text-anchor="start" fill="#262626" >3</text>
<line x1="510.5" y1="580.1" x2="513.5" y2="580.1" stroke="#363636" stroke-width="1.1" />
<text x="519.1" y="583.3" font-size="9" text-anchor="start" fill="#262626" >4</text>
<line x1="510.5" y1="568" x2="513.5" y2="568" stroke="#363636" stroke-width="1.1" />
<text x="519.1" y="571.2" font-size="9" text-anchor="start" fill="#262626" >5</text>
<line x1="510.5" y1="555.9" x2="513.5" y2="555.9" stroke="#363636" stroke-width="1.1" />
<text x="519.1" y="559.1" font-size="9" text-anchor="start" fill="#262626" >6</text>
<line x1="510.5" y1="543.8" x2="513.5" y2="543.8" stroke="#363636" stroke-width="1.1" />
<text x="519.1" y="547" font-size="9" text-anchor="start" fill="#262626" >7</text>
<line x1="510.5" y1="531.7" x2="513.5" y2="531.7" stroke="#363636" stroke-width="1.1" />
<text x="519.1" y="534.9" font-size="9" text-anchor="start" fill="#262626" >8</text>
<line x1="510.5" y1="519.6" x2="513.5" y2="519.6" stroke="#363636" stroke-width="1.1" />
<text x="519.1" y="522.8" font-size="9" text-anchor="start" fill="#262626" >9</text>
<line x1="510.5" y1="507.5" x2="513.5" y2="507.5" stroke="#363636" stroke-width="1.1" />
<text x="519.1" y="510.7" font-size="9" text-anchor="start" fill="#262626" >10</text>
<line x1="328.5" y1="628.5" x2="328.5" y2="631.5" stroke="#363636" stroke-width="1.1" />
<text x="328.5" y="642.4" font-size="9" text-anchor="middle" fill="#262626" >0</text>
<line x1="374" y1="628.5" x2="374" y2="631.5" stroke="#363636" stroke-width="1.1" />
<text x="374" y="642.4" font-size="9" text-anchor="middle" fill="#262626" >20</text>
<line x1="419.5" y1="628.5" x2="419.5" y2="631.5" stroke="#363636" stroke-width="1.1" />
<text x="419.5" y="642.4" font-size="9" text-anchor="middle" fill="#262626" >40</text>
<line x1="465" y1="628.5" x2="465" y2="631.5" stroke="#363636" stroke-width="1.1" />
<text x="465" y="642.4" font-size="9" text-anchor="middle" fill="#262626" >60</text>
<line x1="510.5" y1="628.5" x2="510.5" y2="631.5" stroke="#363636" stroke-width="1.1" />
<text x="510.5" y="642.4" font-size="9" text-anchor="middle" fill="#262626" >80</text>
<text x="415" y="654.2" font-size="9" text-anchor="middle" fill="#262626" >Time (h)</text>
<text x="0" y="0" font-size="9.2" text-anchor="middle" fill="#262626" transform="translate(283.2 569) rotate(-90)" dy="3.22">OD600; Acetate (g/L);</text>
<text x="0" y="0" font-size="9.2" text-anchor="middle" fill="#262626" transform="translate(294 569) rotate(-90)" dy="3.22">Glycolate (g/L)</text>
<text x="0" y="0" font-size="9.1" text-anchor="middle" fill="#262626" transform="translate(540.2 570) rotate(-90)" dy="3.18">Glucose (g/L)</text>
<clipPath id="c4"><rect x="324.5" y="505.5" width="190" height="121.5"/></clipPath>
<g clip-path="url(#c4)">
<line x1="364.9" y1="599.61" x2="364.9" y2="612.21" stroke="#625d5d" stroke-width="1" />
<line x1="361.9" y1="599.61" x2="367.9" y2="599.61" stroke="#625d5d" stroke-width="1" />
<line x1="361.9" y1="612.21" x2="367.9" y2="612.21" stroke="#625d5d" stroke-width="1" />
<line x1="374.68" y1="595.41" x2="374.68" y2="607.81" stroke="#625d5d" stroke-width="1" />
<line x1="371.68" y1="595.41" x2="377.68" y2="595.41" stroke="#625d5d" stroke-width="1" />
<line x1="371.68" y1="607.81" x2="377.68" y2="607.81" stroke="#625d5d" stroke-width="1" />
<line x1="383.1" y1="594.27" x2="383.1" y2="606.27" stroke="#625d5d" stroke-width="1" />
<line x1="380.1" y1="594.27" x2="386.1" y2="594.27" stroke="#625d5d" stroke-width="1" />
<line x1="380.1" y1="606.27" x2="386.1" y2="606.27" stroke="#625d5d" stroke-width="1" />
<line x1="394.48" y1="573.83" x2="394.48" y2="585.83" stroke="#625d5d" stroke-width="1" />
<line x1="391.48" y1="573.83" x2="397.48" y2="573.83" stroke="#625d5d" stroke-width="1" />
<line x1="391.48" y1="585.83" x2="397.48" y2="585.83" stroke="#625d5d" stroke-width="1" />
<line x1="421.77" y1="577.33" x2="421.77" y2="589.33" stroke="#625d5d" stroke-width="1" />
<line x1="418.77" y1="577.33" x2="424.77" y2="577.33" stroke="#625d5d" stroke-width="1" />
<line x1="418.77" y1="589.33" x2="424.77" y2="589.33" stroke="#625d5d" stroke-width="1" />
<line x1="430.88" y1="572.49" x2="430.88" y2="584.49" stroke="#625d5d" stroke-width="1" />
<line x1="427.88" y1="572.49" x2="433.88" y2="572.49" stroke="#625d5d" stroke-width="1" />
<line x1="427.88" y1="584.49" x2="433.88" y2="584.49" stroke="#625d5d" stroke-width="1" />
<line x1="449.07" y1="576.79" x2="449.07" y2="588.79" stroke="#625d5d" stroke-width="1" />
<line x1="446.07" y1="576.79" x2="452.07" y2="576.79" stroke="#625d5d" stroke-width="1" />
<line x1="446.07" y1="588.79" x2="452.07" y2="588.79" stroke="#625d5d" stroke-width="1" />
<line x1="476.38" y1="574.91" x2="476.38" y2="586.91" stroke="#625d5d" stroke-width="1" />
<line x1="473.38" y1="574.91" x2="479.38" y2="574.91" stroke="#625d5d" stroke-width="1" />
<line x1="473.38" y1="586.91" x2="479.38" y2="586.91" stroke="#625d5d" stroke-width="1" />
<line x1="501.4" y1="574.91" x2="501.4" y2="586.91" stroke="#625d5d" stroke-width="1" />
<line x1="498.4" y1="574.91" x2="504.4" y2="574.91" stroke="#625d5d" stroke-width="1" />
<line x1="498.4" y1="586.91" x2="504.4" y2="586.91" stroke="#625d5d" stroke-width="1" />
<line x1="337.6" y1="620.85" x2="337.6" y2="624.85" stroke="#625d5d" stroke-width="1" />
<line x1="334.6" y1="620.85" x2="340.6" y2="620.85" stroke="#625d5d" stroke-width="1" />
<line x1="334.6" y1="624.85" x2="340.6" y2="624.85" stroke="#625d5d" stroke-width="1" />
<line x1="345.56" y1="619.24" x2="345.56" y2="623.24" stroke="#625d5d" stroke-width="1" />
<line x1="342.56" y1="619.24" x2="348.56" y2="619.24" stroke="#625d5d" stroke-width="1" />
<line x1="342.56" y1="623.24" x2="348.56" y2="623.24" stroke="#625d5d" stroke-width="1" />
<line x1="364.9" y1="624.62" x2="364.9" y2="628.62" stroke="#625d5d" stroke-width="1" />
<line x1="361.9" y1="624.62" x2="367.9" y2="624.62" stroke="#625d5d" stroke-width="1" />
<line x1="361.9" y1="628.62" x2="367.9" y2="628.62" stroke="#625d5d" stroke-width="1" />
<line x1="374.68" y1="625.69" x2="374.68" y2="629.69" stroke="#625d5d" stroke-width="1" />
<line x1="371.68" y1="625.69" x2="377.68" y2="625.69" stroke="#625d5d" stroke-width="1" />
<line x1="371.68" y1="629.69" x2="377.68" y2="629.69" stroke="#625d5d" stroke-width="1" />
<line x1="383.1" y1="625.69" x2="383.1" y2="629.69" stroke="#625d5d" stroke-width="1" />
<line x1="380.1" y1="625.69" x2="386.1" y2="625.69" stroke="#625d5d" stroke-width="1" />
<line x1="380.1" y1="629.69" x2="386.1" y2="629.69" stroke="#625d5d" stroke-width="1" />
<line x1="394.48" y1="626.23" x2="394.48" y2="630.23" stroke="#625d5d" stroke-width="1" />
<line x1="391.48" y1="626.23" x2="397.48" y2="626.23" stroke="#625d5d" stroke-width="1" />
<line x1="391.48" y1="630.23" x2="397.48" y2="630.23" stroke="#625d5d" stroke-width="1" />
<line x1="421.77" y1="608.48" x2="421.77" y2="612.48" stroke="#625d5d" stroke-width="1" />
<line x1="418.77" y1="608.48" x2="424.77" y2="608.48" stroke="#625d5d" stroke-width="1" />
<line x1="418.77" y1="612.48" x2="424.77" y2="612.48" stroke="#625d5d" stroke-width="1" />
<line x1="430.88" y1="615.48" x2="430.88" y2="619.48" stroke="#625d5d" stroke-width="1" />
<line x1="427.88" y1="615.48" x2="433.88" y2="615.48" stroke="#625d5d" stroke-width="1" />
<line x1="427.88" y1="619.48" x2="433.88" y2="619.48" stroke="#625d5d" stroke-width="1" />
<line x1="449.07" y1="603.64" x2="449.07" y2="607.64" stroke="#625d5d" stroke-width="1" />
<line x1="446.07" y1="603.64" x2="452.07" y2="603.64" stroke="#625d5d" stroke-width="1" />
<line x1="446.07" y1="607.64" x2="452.07" y2="607.64" stroke="#625d5d" stroke-width="1" />
<line x1="476.38" y1="608.22" x2="476.38" y2="612.22" stroke="#625d5d" stroke-width="1" />
<line x1="473.38" y1="608.22" x2="479.38" y2="608.22" stroke="#625d5d" stroke-width="1" />
<line x1="473.38" y1="612.22" x2="479.38" y2="612.22" stroke="#625d5d" stroke-width="1" />
<line x1="501.4" y1="609.56" x2="501.4" y2="613.56" stroke="#625d5d" stroke-width="1" />
<line x1="498.4" y1="609.56" x2="504.4" y2="609.56" stroke="#625d5d" stroke-width="1" />
<line x1="498.4" y1="613.56" x2="504.4" y2="613.56" stroke="#625d5d" stroke-width="1" />
<line x1="337.6" y1="592.91" x2="337.6" y2="610.31" stroke="#625d5d" stroke-width="1" />
<line x1="334.6" y1="592.91" x2="340.6" y2="592.91" stroke="#625d5d" stroke-width="1" />
<line x1="334.6" y1="610.31" x2="340.6" y2="610.31" stroke="#625d5d" stroke-width="1" />
<line x1="345.56" y1="580.71" x2="345.56" y2="598.31" stroke="#625d5d" stroke-width="1" />
<line x1="342.56" y1="580.71" x2="348.56" y2="580.71" stroke="#625d5d" stroke-width="1" />
<line x1="342.56" y1="598.31" x2="348.56" y2="598.31" stroke="#625d5d" stroke-width="1" />
<line x1="364.9" y1="567.8" x2="364.9" y2="585.4" stroke="#625d5d" stroke-width="1" />
<line x1="361.9" y1="567.8" x2="367.9" y2="567.8" stroke="#625d5d" stroke-width="1" />
<line x1="361.9" y1="585.4" x2="367.9" y2="585.4" stroke="#625d5d" stroke-width="1" />
<line x1="374.68" y1="554.09" x2="374.68" y2="571.69" stroke="#625d5d" stroke-width="1" />
<line x1="371.68" y1="554.09" x2="377.68" y2="554.09" stroke="#625d5d" stroke-width="1" />
<line x1="371.68" y1="571.69" x2="377.68" y2="571.69" stroke="#625d5d" stroke-width="1" />
<line x1="383.1" y1="538.5" x2="383.1" y2="556.1" stroke="#625d5d" stroke-width="1" />
<line x1="380.1" y1="538.5" x2="386.1" y2="538.5" stroke="#625d5d" stroke-width="1" />
<line x1="380.1" y1="556.1" x2="386.1" y2="556.1" stroke="#625d5d" stroke-width="1" />
<line x1="394.48" y1="524.61" x2="394.48" y2="542.01" stroke="#625d5d" stroke-width="1" />
<line x1="391.48" y1="524.61" x2="397.48" y2="524.61" stroke="#625d5d" stroke-width="1" />
<line x1="391.48" y1="542.01" x2="397.48" y2="542.01" stroke="#625d5d" stroke-width="1" />
<line x1="421.77" y1="530.53" x2="421.77" y2="547.93" stroke="#625d5d" stroke-width="1" />
<line x1="418.77" y1="530.53" x2="424.77" y2="530.53" stroke="#625d5d" stroke-width="1" />
<line x1="418.77" y1="547.93" x2="424.77" y2="547.93" stroke="#625d5d" stroke-width="1" />
<line x1="430.88" y1="513.86" x2="430.88" y2="531.26" stroke="#625d5d" stroke-width="1" />
<line x1="427.88" y1="513.86" x2="433.88" y2="513.86" stroke="#625d5d" stroke-width="1" />
<line x1="427.88" y1="531.26" x2="433.88" y2="531.26" stroke="#625d5d" stroke-width="1" />
<line x1="449.07" y1="535.64" x2="449.07" y2="553.04" stroke="#625d5d" stroke-width="1" />
<line x1="446.07" y1="535.64" x2="452.07" y2="535.64" stroke="#625d5d" stroke-width="1" />
<line x1="446.07" y1="553.04" x2="452.07" y2="553.04" stroke="#625d5d" stroke-width="1" />
<line x1="476.38" y1="539.4" x2="476.38" y2="556.8" stroke="#625d5d" stroke-width="1" />
<line x1="473.38" y1="539.4" x2="479.38" y2="539.4" stroke="#625d5d" stroke-width="1" />
<line x1="473.38" y1="556.8" x2="479.38" y2="556.8" stroke="#625d5d" stroke-width="1" />
<line x1="501.4" y1="563.33" x2="501.4" y2="580.73" stroke="#625d5d" stroke-width="1" />
<line x1="498.4" y1="563.33" x2="504.4" y2="563.33" stroke="#625d5d" stroke-width="1" />
<line x1="498.4" y1="580.73" x2="504.4" y2="580.73" stroke="#625d5d" stroke-width="1" />
<line x1="328.5" y1="523.03" x2="328.5" y2="543.03" stroke="#625d5d" stroke-width="1" />
<line x1="325.5" y1="523.03" x2="331.5" y2="523.03" stroke="#625d5d" stroke-width="1" />
<line x1="325.5" y1="543.03" x2="331.5" y2="543.03" stroke="#625d5d" stroke-width="1" />
<line x1="337.6" y1="535.28" x2="337.6" y2="556.68" stroke="#625d5d" stroke-width="1" />
<line x1="334.6" y1="535.28" x2="340.6" y2="535.28" stroke="#625d5d" stroke-width="1" />
<line x1="334.6" y1="556.68" x2="340.6" y2="556.68" stroke="#625d5d" stroke-width="1" />
<line x1="345.56" y1="550.1" x2="345.56" y2="570.9" stroke="#625d5d" stroke-width="1" />
<line x1="342.56" y1="550.1" x2="348.56" y2="550.1" stroke="#625d5d" stroke-width="1" />
<line x1="342.56" y1="570.9" x2="348.56" y2="570.9" stroke="#625d5d" stroke-width="1" />
<line x1="364.9" y1="575.45" x2="364.9" y2="596.85" stroke="#625d5d" stroke-width="1" />
<line x1="361.9" y1="575.45" x2="367.9" y2="575.45" stroke="#625d5d" stroke-width="1" />
<line x1="361.9" y1="596.85" x2="367.9" y2="596.85" stroke="#625d5d" stroke-width="1" />
<line x1="374.68" y1="580.35" x2="374.68" y2="601.15" stroke="#625d5d" stroke-width="1" />
<line x1="371.68" y1="580.35" x2="377.68" y2="580.35" stroke="#625d5d" stroke-width="1" />
<line x1="371.68" y1="601.15" x2="377.68" y2="601.15" stroke="#625d5d" stroke-width="1" />
<line x1="383.1" y1="590.82" x2="383.1" y2="612.22" stroke="#625d5d" stroke-width="1" />
<line x1="380.1" y1="590.82" x2="386.1" y2="590.82" stroke="#625d5d" stroke-width="1" />
<line x1="380.1" y1="612.22" x2="386.1" y2="612.22" stroke="#625d5d" stroke-width="1" />
<line x1="394.48" y1="619.5" x2="394.48" y2="637.5" stroke="#625d5d" stroke-width="1" />
<line x1="391.48" y1="619.5" x2="397.48" y2="619.5" stroke="#625d5d" stroke-width="1" />
<line x1="391.48" y1="637.5" x2="397.48" y2="637.5" stroke="#625d5d" stroke-width="1" />
<line x1="421.77" y1="619.5" x2="421.77" y2="637.5" stroke="#625d5d" stroke-width="1" />
<line x1="418.77" y1="619.5" x2="424.77" y2="619.5" stroke="#625d5d" stroke-width="1" />
<line x1="418.77" y1="637.5" x2="424.77" y2="637.5" stroke="#625d5d" stroke-width="1" />
<line x1="430.88" y1="619.5" x2="430.88" y2="637.5" stroke="#625d5d" stroke-width="1" />
<line x1="427.88" y1="619.5" x2="433.88" y2="619.5" stroke="#625d5d" stroke-width="1" />
<line x1="427.88" y1="637.5" x2="433.88" y2="637.5" stroke="#625d5d" stroke-width="1" />
<line x1="449.07" y1="619.5" x2="449.07" y2="637.5" stroke="#625d5d" stroke-width="1" />
<line x1="446.07" y1="619.5" x2="452.07" y2="619.5" stroke="#625d5d" stroke-width="1" />
<line x1="446.07" y1="637.5" x2="452.07" y2="637.5" stroke="#625d5d" stroke-width="1" />
<line x1="476.38" y1="619.5" x2="476.38" y2="637.5" stroke="#625d5d" stroke-width="1" />
<line x1="473.38" y1="619.5" x2="479.38" y2="619.5" stroke="#625d5d" stroke-width="1" />
<line x1="473.38" y1="637.5" x2="479.38" y2="637.5" stroke="#625d5d" stroke-width="1" />
<line x1="501.4" y1="619.5" x2="501.4" y2="637.5" stroke="#625d5d" stroke-width="1" />
<line x1="498.4" y1="619.5" x2="504.4" y2="619.5" stroke="#625d5d" stroke-width="1" />
<line x1="498.4" y1="637.5" x2="504.4" y2="637.5" stroke="#625d5d" stroke-width="1" />
</g>
<path d="M328.5,628.5 C330.02,628.5 334.76,628.5 337.6,628.5 C340.44,628.5 341.01,632.26 345.56,628.5 C350.11,624.74 360.05,610.39 364.9,605.91 C369.75,601.43 371.65,602.55 374.68,601.61 C377.72,600.67 379.8,603.9 383.1,600.27 C386.4,596.64 388.03,582.65 394.48,579.83 C400.92,577.01 415.71,583.55 421.77,583.33 C427.84,583.1 426.32,578.58 430.88,578.49 C435.43,578.4 441.49,582.39 449.07,582.79 C456.66,583.19 467.65,581.22 476.38,580.91 C485.1,580.59 497.23,580.91 501.4,580.91" fill="none" stroke="#f4661f" stroke-width="1.9" stroke-linejoin="round" clip-path="url(#c4)"/>
<circle cx="328.5" cy="628.5" r="3.2" fill="#f4661f" />
<circle cx="337.6" cy="628.5" r="3.2" fill="#f4661f" />
<circle cx="345.56" cy="628.5" r="3.2" fill="#f4661f" />
<circle cx="364.9" cy="605.91" r="3.2" fill="#f4661f" />
<circle cx="374.68" cy="601.61" r="3.2" fill="#f4661f" />
<circle cx="383.1" cy="600.27" r="3.2" fill="#f4661f" />
<circle cx="394.48" cy="579.83" r="3.2" fill="#f4661f" />
<circle cx="421.77" cy="583.33" r="3.2" fill="#f4661f" />
<circle cx="430.88" cy="578.49" r="3.2" fill="#f4661f" />
<circle cx="449.07" cy="582.79" r="3.2" fill="#f4661f" />
<circle cx="476.38" cy="580.91" r="3.2" fill="#f4661f" />
<circle cx="501.4" cy="580.91" r="3.2" fill="#f4661f" />
<path d="M328.5,628.5 C330.02,627.56 334.76,624.06 337.6,622.85 C340.44,621.64 341.01,620.61 345.56,621.24 C350.11,621.87 360.05,625.54 364.9,626.62 C369.75,627.69 371.65,627.51 374.68,627.69 C377.72,627.87 379.8,627.6 383.1,627.69 C386.4,627.78 388.03,631.1 394.48,628.23 C400.92,625.36 415.71,612.28 421.77,610.48 C427.84,608.69 426.32,618.28 430.88,617.48 C435.43,616.67 441.49,606.85 449.07,605.64 C456.66,604.43 467.65,609.23 476.38,610.22 C485.1,611.2 497.23,611.34 501.4,611.56" fill="none" stroke="#a39f9f" stroke-width="1.9" stroke-linejoin="round" clip-path="url(#c4)"/>
<circle cx="328.5" cy="628.5" r="3.2" fill="#a39f9f" />
<circle cx="337.6" cy="622.85" r="3.2" fill="#a39f9f" />
<circle cx="345.56" cy="621.24" r="3.2" fill="#a39f9f" />
<circle cx="364.9" cy="626.62" r="3.2" fill="#a39f9f" />
<circle cx="374.68" cy="627.69" r="3.2" fill="#a39f9f" />
<circle cx="383.1" cy="627.69" r="3.2" fill="#a39f9f" />
<circle cx="394.48" cy="628.23" r="3.2" fill="#a39f9f" />
<circle cx="421.77" cy="610.48" r="3.2" fill="#a39f9f" />
<circle cx="430.88" cy="617.48" r="3.2" fill="#a39f9f" />
<circle cx="449.07" cy="605.64" r="3.2" fill="#a39f9f" />
<circle cx="476.38" cy="610.22" r="3.2" fill="#a39f9f" />
<circle cx="501.4" cy="611.56" r="3.2" fill="#a39f9f" />
<path d="M328.5,627.42 C330.02,623.12 334.76,607.93 337.6,601.61 C340.44,595.29 341.01,593.68 345.56,589.51 C350.11,585.34 360.05,581.04 364.9,576.6 C369.75,572.17 371.65,567.78 374.68,562.89 C377.72,558.01 379.8,552.23 383.1,547.3 C386.4,542.37 388.03,534.66 394.48,533.31 C400.92,531.97 415.71,541.02 421.77,539.23 C427.84,537.44 426.32,521.71 430.88,522.56 C435.43,523.41 441.49,540.08 449.07,544.34 C456.66,548.6 467.65,543.49 476.38,548.1 C485.1,552.72 497.23,568.04 501.4,572.03" fill="none" stroke="#ffad18" stroke-width="1.9" stroke-linejoin="round" clip-path="url(#c4)"/>
<circle cx="328.5" cy="627.42" r="3.2" fill="#ffad18" />
<circle cx="337.6" cy="601.61" r="3.2" fill="#ffad18" />
<circle cx="345.56" cy="589.51" r="3.2" fill="#ffad18" />
<circle cx="364.9" cy="576.6" r="3.2" fill="#ffad18" />
<circle cx="374.68" cy="562.89" r="3.2" fill="#ffad18" />
<circle cx="383.1" cy="547.3" r="3.2" fill="#ffad18" />
<circle cx="394.48" cy="533.31" r="3.2" fill="#ffad18" />
<circle cx="421.77" cy="539.23" r="3.2" fill="#ffad18" />
<circle cx="430.88" cy="522.56" r="3.2" fill="#ffad18" />
<circle cx="449.07" cy="544.34" r="3.2" fill="#ffad18" />
<circle cx="476.38" cy="548.1" r="3.2" fill="#ffad18" />
<circle cx="501.4" cy="572.03" r="3.2" fill="#ffad18" />
<path d="M328.5,533.03 C330.02,535.19 334.76,541.4 337.6,545.98 C340.44,550.56 341.01,553.8 345.56,560.5 C350.11,567.19 360.05,581.11 364.9,586.15 C369.75,591.19 371.65,588.19 374.68,590.75 C377.72,593.31 379.8,595.23 383.1,601.52 C386.4,607.81 388.03,624 394.48,628.5 C400.92,633 415.71,628.5 421.77,628.5 C427.84,628.5 426.32,628.5 430.88,628.5 C435.43,628.5 441.49,628.5 449.07,628.5 C456.66,628.5 467.65,628.5 476.38,628.5 C485.1,628.5 497.23,628.5 501.4,628.5" fill="none" stroke="#4466b8" stroke-width="1.9" stroke-linejoin="round" clip-path="url(#c4)"/>
<circle cx="328.5" cy="533.03" r="3.2" fill="#4466b8" />
<circle cx="337.6" cy="545.98" r="3.2" fill="#4466b8" />
<circle cx="345.56" cy="560.5" r="3.2" fill="#4466b8" />
<circle cx="364.9" cy="586.15" r="3.2" fill="#4466b8" />
<circle cx="374.68" cy="590.75" r="3.2" fill="#4466b8" />
<circle cx="383.1" cy="601.52" r="3.2" fill="#4466b8" />
<circle cx="394.48" cy="628.5" r="3.2" fill="#4466b8" />
<circle cx="421.77" cy="628.5" r="3.2" fill="#4466b8" />
<circle cx="430.88" cy="628.5" r="3.2" fill="#4466b8" />
<circle cx="449.07" cy="628.5" r="3.2" fill="#4466b8" />
<circle cx="476.38" cy="628.5" r="3.2" fill="#4466b8" />
<circle cx="501.4" cy="628.5" r="3.2" fill="#4466b8" />
<line x1="292.7" y1="663.3" x2="315.6" y2="663.3" stroke="#f4661f" stroke-width="1.9" />
<circle cx="304.15" cy="663.3" r="2.7" fill="#f4661f" />
<text x="317.7" y="666.5" font-size="9.15" text-anchor="start" fill="#262626" >Glycolate</text>
<line x1="358.9" y1="663.3" x2="381" y2="663.3" stroke="#a39f9f" stroke-width="1.9" />
<circle cx="369.95" cy="663.3" r="2.7" fill="#a39f9f" />
<text x="383.1" y="666.5" font-size="9.15" text-anchor="start" fill="#262626" >Acetate</text>
<line x1="418.1" y1="663.3" x2="440" y2="663.3" stroke="#ffad18" stroke-width="1.9" />
<circle cx="429.05" cy="663.3" r="2.7" fill="#ffad18" />
<text x="441.8" y="666.5" font-size="9.15" text-anchor="start" fill="#262626" >OD600</text>
<line x1="475.7" y1="663.3" x2="497.8" y2="663.3" stroke="#4466b8" stroke-width="1.9" />
<circle cx="486.75" cy="663.3" r="2.7" fill="#4466b8" />
<text x="499.6" y="666.5" font-size="9.15" text-anchor="start" fill="#262626" >Glucose</text>
</svg></body></html>
